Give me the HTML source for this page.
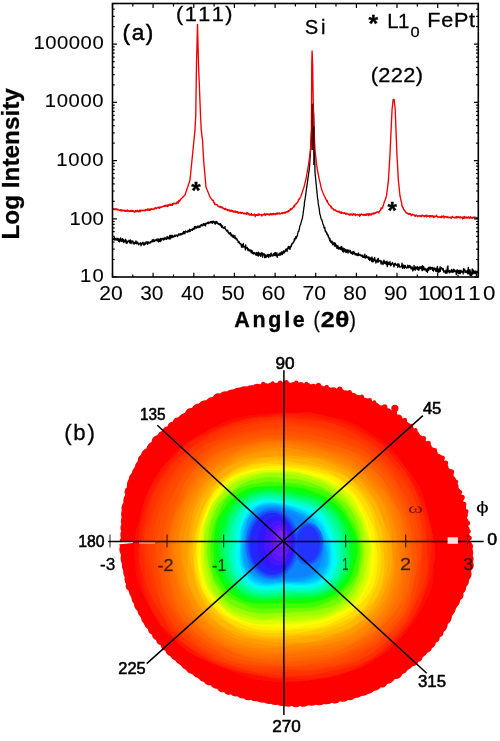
<!DOCTYPE html>
<html><head><meta charset="utf-8"><title>XRD and pole figure</title>
<style>html,body{margin:0;padding:0;background:#fff}svg{display:block}text{stroke:#000;stroke-width:.3px;font-kerning:none}</style></head>
<body><svg width="500" height="741" viewBox="0 0 500 741">
<rect width="500" height="741" fill="#fff"/>
<polyline points="112.5,240.3 112.8,238.4 113.1,238.9 113.4,239.3 113.7,238.2 114.0,239.0 114.3,239.1 114.6,237.5 114.9,240.1 115.2,239.8 115.5,238.7 115.8,239.2 116.1,239.9 116.4,239.2 116.7,239.3 117.0,238.2 117.3,240.1 117.6,239.8 117.9,240.0 118.2,238.3 118.5,241.4 118.8,240.0 119.1,239.6 119.4,241.9 119.7,240.0 120.0,238.7 120.3,239.8 120.6,238.0 120.9,241.3 121.2,239.9 121.5,239.7 121.8,241.5 122.1,238.9 122.4,241.1 122.7,238.6 123.0,240.0 123.3,239.5 123.6,242.2 123.9,242.5 124.2,240.5 124.5,241.7 124.8,240.8 125.0,241.6 125.1,240.3 125.4,239.4 125.7,239.3 126.0,241.5 126.3,243.4 126.6,241.5 126.9,240.8 127.2,243.2 127.5,241.6 127.8,241.5 128.1,241.7 128.4,241.4 128.7,241.3 129.0,240.2 129.3,242.2 129.6,241.6 129.9,243.0 130.2,241.5 130.5,240.0 130.8,241.8 131.1,243.7 131.4,241.6 131.7,241.2 132.0,240.9 132.3,241.1 132.6,241.9 132.9,241.1 133.2,243.8 133.5,242.1 133.8,242.5 134.1,243.9 134.4,244.0 134.7,242.3 135.0,242.9 135.3,243.4 135.6,242.5 135.9,240.9 136.2,243.4 136.5,243.7 136.8,243.3 137.1,242.0 137.4,242.7 137.7,242.4 138.0,242.7 138.3,244.4 138.6,244.7 138.9,243.9 139.2,243.8 139.5,244.0 139.8,243.3 140.1,243.3 140.4,242.7 140.7,243.4 141.0,245.8 141.3,244.5 141.6,243.3 141.9,243.2 142.2,242.8 142.5,244.1 142.5,244.2 142.8,242.2 143.1,244.1 143.4,243.0 143.7,245.0 144.0,243.6 144.3,245.1 144.6,242.8 144.9,242.9 145.2,243.5 145.5,244.2 145.8,243.6 146.1,241.7 146.4,243.1 146.7,242.9 147.0,242.4 147.3,242.1 147.6,244.4 147.9,242.2 148.2,241.7 148.5,243.1 148.8,242.5 149.1,242.3 149.4,243.1 149.7,242.7 150.0,242.5 150.3,243.0 150.6,242.3 150.9,241.3 151.2,241.5 151.5,241.3 151.8,242.0 152.1,240.6 152.4,239.8 152.7,241.7 153.0,240.2 153.3,239.5 153.6,241.7 153.9,240.6 154.2,241.7 154.5,240.7 154.8,240.0 155.1,239.8 155.4,240.5 155.7,240.7 156.0,240.1 156.3,240.5 156.6,239.2 156.9,240.7 157.2,238.9 157.5,240.3 157.8,241.1 158.1,241.5 158.4,242.0 158.7,238.8 159.0,240.9 159.3,241.3 159.6,241.0 159.9,239.1 160.0,240.4 160.2,241.7 160.5,238.4 160.8,240.2 161.1,240.8 161.4,239.0 161.7,240.1 162.0,238.4 162.3,238.6 162.6,238.5 162.9,239.4 163.2,239.1 163.5,240.0 163.8,238.1 164.1,238.8 164.4,239.7 164.7,239.3 165.0,237.4 165.3,239.2 165.6,238.1 165.9,238.8 166.2,238.6 166.5,239.4 166.8,238.3 167.1,236.4 167.4,236.8 167.7,238.6 168.0,237.6 168.3,238.8 168.6,238.0 168.9,236.9 169.2,238.5 169.5,236.7 169.8,235.5 170.1,239.2 170.4,235.5 170.7,237.7 171.0,237.9 171.3,237.1 171.6,235.4 171.9,237.7 172.2,235.4 172.5,235.5 172.8,236.3 173.1,237.2 173.4,236.7 173.7,237.1 174.0,235.9 174.3,236.0 174.6,235.1 174.9,235.7 175.0,236.5 175.2,235.7 175.5,236.2 175.8,235.2 176.1,235.1 176.4,235.5 176.7,235.2 177.0,235.8 177.3,235.4 177.6,236.6 177.9,234.8 178.2,234.7 178.5,233.9 178.8,234.7 179.1,235.2 179.4,233.8 179.7,234.3 180.0,234.9 180.3,234.0 180.6,233.6 180.9,234.8 181.2,233.9 181.5,234.1 181.8,234.6 182.1,234.5 182.4,233.1 182.7,232.9 183.0,233.4 183.3,233.0 183.6,231.4 183.9,233.9 184.2,232.8 184.5,233.3 184.8,231.6 185.0,233.6 185.1,232.0 185.4,232.2 185.7,231.0 186.0,231.9 186.3,231.7 186.6,231.7 186.9,232.0 187.2,231.6 187.5,232.2 187.8,230.9 188.1,230.4 188.4,231.0 188.7,231.4 189.0,231.8 189.3,231.3 189.6,229.1 189.9,230.7 190.2,231.4 190.5,230.2 190.8,229.6 191.1,230.1 191.4,229.3 191.7,230.1 192.0,229.5 192.3,230.4 192.6,229.6 192.9,228.5 193.2,229.4 193.5,229.5 193.8,228.3 194.1,228.2 194.4,226.7 194.7,229.0 195.0,227.7 195.3,226.5 195.6,226.6 195.9,227.6 196.2,228.2 196.5,227.5 196.8,227.7 197.1,226.5 197.4,226.1 197.7,227.6 198.0,227.2 198.3,226.7 198.6,227.5 198.9,225.8 199.2,226.0 199.5,226.9 199.8,227.4 200.0,226.0 200.1,227.2 200.4,225.4 200.7,226.0 201.0,225.5 201.3,224.4 201.6,225.6 201.9,225.9 202.2,225.1 202.5,225.0 202.8,225.9 203.1,224.0 203.4,223.7 203.7,224.2 204.0,223.7 204.3,225.3 204.6,224.5 204.9,223.6 205.2,223.6 205.5,225.9 205.8,223.4 206.1,223.2 206.4,223.8 206.7,223.9 207.0,223.5 207.3,222.7 207.6,222.4 207.9,223.4 208.0,223.0 208.2,221.9 208.5,223.7 208.8,223.4 209.1,222.7 209.4,222.6 209.7,222.9 210.0,222.2 210.3,221.7 210.6,222.8 210.9,221.6 211.2,222.7 211.5,221.5 211.8,222.3 212.1,222.2 212.4,223.4 212.7,221.5 213.0,221.2 213.3,221.7 213.6,221.3 213.8,221.6 213.9,222.3 214.2,222.7 214.5,223.3 214.8,221.9 215.1,224.2 215.4,223.9 215.7,222.6 216.0,221.4 216.3,222.9 216.6,223.1 216.9,221.7 217.2,223.4 217.5,223.3 217.8,223.0 218.1,224.1 218.4,224.4 218.7,223.6 219.0,224.2 219.0,223.6 219.3,223.7 219.6,224.5 219.9,225.1 220.2,224.6 220.5,223.7 220.8,225.8 221.1,224.5 221.4,226.0 221.7,227.4 222.0,226.4 222.3,225.8 222.6,225.8 222.9,227.9 223.2,227.3 223.5,228.0 223.8,228.5 224.1,228.0 224.4,228.0 224.7,227.8 225.0,226.4 225.0,227.6 225.3,229.0 225.6,229.2 225.9,230.0 226.2,229.9 226.5,230.4 226.8,231.2 227.1,230.1 227.4,230.9 227.7,230.2 228.0,232.5 228.3,232.1 228.6,232.8 228.9,233.9 229.2,233.8 229.5,233.2 229.8,234.2 230.0,232.5 230.1,234.2 230.4,234.2 230.7,233.0 231.0,235.8 231.3,234.2 231.6,235.7 231.9,235.0 232.2,236.5 232.5,237.0 232.8,235.4 233.1,235.0 233.4,236.5 233.7,237.7 234.0,236.8 234.3,236.8 234.6,238.1 234.9,235.4 235.0,237.4 235.2,236.9 235.5,238.8 235.8,238.2 236.1,238.1 236.4,239.2 236.7,238.4 237.0,240.1 237.3,239.8 237.6,240.4 237.9,240.4 238.2,242.3 238.5,241.6 238.8,242.6 239.1,242.9 239.4,241.9 239.7,243.6 240.0,243.7 240.3,244.0 240.6,243.6 240.9,243.9 241.2,245.4 241.5,247.2 241.8,244.4 242.1,246.1 242.4,245.5 242.5,246.8 242.7,246.6 243.0,247.4 243.3,243.5 243.6,246.0 243.9,245.8 244.2,246.9 244.5,246.5 244.8,246.7 245.1,248.4 245.4,249.9 245.7,244.9 246.0,247.8 246.3,248.7 246.6,248.5 246.9,248.3 247.2,247.4 247.5,248.0 247.8,250.1 248.1,250.7 248.4,249.8 248.7,248.9 249.0,250.1 249.3,249.9 249.6,251.0 249.9,250.7 250.2,250.1 250.5,251.2 250.8,249.8 251.1,252.3 251.4,252.9 251.7,250.3 252.0,252.4 252.3,250.9 252.6,253.5 252.9,253.5 253.2,252.4 253.5,254.0 253.8,252.5 254.1,252.4 254.4,252.7 254.7,253.4 255.0,253.4 255.0,253.9 255.3,253.1 255.6,254.8 255.9,255.1 256.2,253.4 256.5,252.3 256.8,255.0 257.1,255.5 257.4,254.0 257.7,252.7 258.0,254.6 258.3,256.2 258.6,252.1 258.9,255.0 259.2,254.1 259.5,253.5 259.8,255.2 260.1,253.1 260.4,255.1 260.7,256.4 261.0,255.0 261.3,253.8 261.6,252.8 261.9,253.4 262.2,252.8 262.5,257.1 262.8,254.8 263.1,253.9 263.4,253.7 263.7,254.0 264.0,255.0 264.3,253.8 264.6,257.6 264.9,254.6 265.2,254.6 265.5,256.0 265.8,257.5 266.1,257.4 266.4,255.2 266.7,256.2 267.0,256.1 267.3,256.6 267.5,256.3 267.6,254.8 267.9,254.4 268.2,256.1 268.5,254.3 268.8,257.5 269.1,255.8 269.4,254.4 269.7,255.2 270.0,254.9 270.3,255.3 270.6,256.6 270.9,253.6 271.2,253.0 271.5,255.7 271.8,255.0 272.1,255.4 272.4,255.7 272.7,254.8 273.0,256.0 273.3,253.9 273.6,255.0 273.9,253.8 274.2,253.4 274.5,255.5 274.8,255.4 275.1,252.3 275.4,253.2 275.7,254.9 276.0,255.8 276.3,253.6 276.6,254.1 276.9,252.6 277.2,257.3 277.5,254.8 277.8,255.2 278.1,254.9 278.4,255.2 278.7,254.7 279.0,253.5 279.3,254.8 279.6,253.9 279.9,255.3 280.0,252.9 280.2,253.0 280.5,254.2 280.8,254.8 281.1,253.2 281.4,252.0 281.7,252.5 282.0,251.9 282.3,254.6 282.6,253.2 282.9,253.4 283.2,252.1 283.5,250.9 283.8,252.7 284.1,253.1 284.4,251.7 284.7,250.8 285.0,251.9 285.3,250.0 285.6,251.1 285.9,249.3 286.2,248.8 286.5,250.3 286.8,249.9 287.1,251.5 287.4,248.8 287.7,249.0 288.0,247.5 288.3,246.5 288.6,246.4 288.9,248.7 289.2,246.7 289.5,249.1 289.8,249.2 290.0,247.2 290.1,249.1 290.4,247.1 290.7,247.5 291.0,245.6 291.3,246.3 291.6,243.8 291.9,245.0 292.2,243.4 292.5,243.2 292.8,243.5 293.1,242.5 293.4,241.8 293.7,242.0 294.0,241.6 294.3,239.0 294.6,240.4 294.9,240.0 295.2,238.1 295.5,238.7 295.8,236.6 296.1,238.6 296.4,236.6 296.7,236.3 297.0,236.9 297.3,235.2 297.5,235.5 297.6,233.7 297.9,233.1 298.2,231.4 298.5,231.3 298.8,231.3 299.1,229.6 299.4,229.0 299.7,226.5 300.0,225.6 300.3,224.9 300.6,224.5 300.9,223.3 301.2,222.0 301.5,221.4 301.8,219.9 302.1,218.9 302.4,218.6 302.5,217.1 302.7,216.2 303.0,214.9 303.3,211.8 303.6,210.1 303.9,207.1 304.2,206.5 304.5,201.9 304.8,200.4 305.1,198.9 305.4,196.8 305.7,194.6 306.0,192.5 306.0,192.5 306.3,190.4 306.6,188.2 306.9,186.1 307.2,183.9 307.5,181.8 307.8,179.6 308.1,177.5 308.4,175.4 308.7,173.2 309.0,171.1 309.3,168.9 309.5,167.5 309.6,165.8 309.9,160.8 310.2,155.8 310.5,150.8 310.8,145.8 311.0,142.5 311.1,140.7 311.4,135.2 311.7,129.7 312.0,124.2 312.3,118.7 312.5,115.0 312.6,112.8 312.9,106.2 313.0,104.0 313.2,107.7 313.5,113.2 313.6,115.0 313.8,122.9 314.1,134.6 314.3,142.5 314.4,146.8 314.7,159.6 315.0,172.5 315.0,172.5 315.3,175.5 315.6,178.5 315.9,181.5 316.2,184.5 316.5,187.5 316.8,190.5 317.1,193.5 317.4,196.5 317.5,197.5 317.7,198.9 318.0,200.4 318.3,204.1 318.6,205.4 318.9,207.1 319.2,208.6 319.5,211.7 319.8,213.7 320.0,214.6 320.1,214.4 320.4,215.5 320.7,217.2 321.0,218.2 321.3,218.9 321.6,219.7 321.9,219.6 322.2,221.6 322.5,221.8 322.8,223.4 323.1,224.6 323.4,224.7 323.7,225.4 324.0,227.7 324.3,228.2 324.6,228.3 324.9,227.4 325.0,230.0 325.2,230.9 325.5,231.9 325.8,231.1 326.1,231.7 326.4,232.4 326.7,234.1 327.0,233.0 327.3,234.5 327.6,234.4 327.9,236.0 328.2,235.0 328.5,237.3 328.8,237.1 329.1,238.0 329.4,239.3 329.7,240.5 330.0,238.4 330.0,241.0 330.3,240.8 330.6,240.3 330.9,242.3 331.2,241.4 331.5,242.8 331.8,241.2 332.1,241.2 332.4,243.6 332.7,244.9 333.0,243.6 333.3,244.2 333.6,243.1 333.9,242.5 334.2,244.0 334.5,246.1 334.8,242.9 335.1,244.6 335.4,243.4 335.7,245.8 336.0,246.9 336.3,245.0 336.6,246.2 336.9,248.3 337.2,247.1 337.5,246.1 337.5,246.1 337.8,245.4 338.1,248.6 338.4,247.0 338.7,249.1 339.0,249.0 339.3,247.4 339.6,247.6 339.9,249.2 340.2,248.6 340.5,248.8 340.8,246.8 341.1,249.8 341.4,247.9 341.7,246.4 342.0,248.4 342.3,249.7 342.6,251.6 342.9,249.0 343.2,248.0 343.5,252.0 343.8,249.9 344.1,249.5 344.4,248.7 344.7,248.9 345.0,251.8 345.3,249.9 345.6,249.7 345.9,249.9 346.2,252.3 346.5,250.0 346.8,251.5 347.1,251.2 347.4,251.2 347.5,250.0 347.7,251.8 348.0,253.1 348.3,251.2 348.6,250.3 348.9,250.0 349.2,251.8 349.5,251.4 349.8,251.7 350.1,252.0 350.4,250.3 350.7,253.1 351.0,252.6 351.3,252.3 351.6,252.8 351.9,253.7 352.2,252.8 352.5,251.8 352.8,254.3 353.1,252.5 353.4,252.3 353.7,251.4 354.0,253.4 354.3,252.2 354.6,253.0 354.9,254.3 355.0,253.8 355.2,255.0 355.5,254.3 355.8,253.5 356.1,253.7 356.4,253.6 356.7,255.1 357.0,254.4 357.3,254.0 357.6,255.6 357.9,254.8 358.2,254.2 358.5,253.0 358.8,255.5 359.1,255.3 359.4,255.2 359.7,254.7 360.0,254.3 360.3,255.2 360.6,255.8 360.9,255.5 361.2,255.5 361.5,255.2 361.8,256.3 362.1,256.3 362.4,255.2 362.7,257.1 363.0,257.3 363.3,257.4 363.6,256.3 363.9,256.3 364.2,255.2 364.5,257.7 364.8,254.2 365.1,256.5 365.4,256.6 365.7,258.2 366.0,257.2 366.3,256.1 366.6,255.6 366.9,256.6 367.2,257.8 367.5,257.8 367.8,257.6 368.1,257.0 368.4,257.7 368.7,259.4 369.0,256.8 369.3,258.3 369.6,260.5 369.9,259.2 370.2,258.0 370.5,259.5 370.8,257.8 371.1,258.9 371.4,261.0 371.7,261.5 372.0,256.9 372.3,260.2 372.6,261.9 372.9,258.7 373.2,259.9 373.5,261.6 373.8,259.1 374.1,260.4 374.4,259.8 374.7,257.5 375.0,260.6 375.3,259.9 375.6,261.5 375.9,263.2 376.2,261.4 376.5,260.1 376.8,261.3 377.1,261.0 377.4,262.2 377.7,259.0 378.0,259.5 378.3,258.4 378.6,262.1 378.9,261.3 379.2,260.6 379.5,260.5 379.8,260.8 380.1,260.5 380.4,261.4 380.7,261.2 381.0,263.9 381.0,262.4 381.3,260.9 381.6,261.3 381.9,263.8 382.2,262.8 382.5,262.7 382.8,263.3 383.1,264.5 383.4,260.8 383.7,261.5 384.0,260.2 384.3,263.3 384.6,262.1 384.9,261.8 385.2,261.7 385.5,263.7 385.8,262.7 386.1,262.2 386.4,264.7 386.7,261.6 387.0,261.3 387.3,266.7 387.6,262.7 387.9,262.5 388.2,262.3 388.5,263.1 388.8,264.5 389.1,264.5 389.4,264.2 389.7,263.2 390.0,261.5 390.3,264.0 390.6,265.8 390.9,265.2 391.2,263.6 391.5,265.0 391.8,263.4 392.1,263.9 392.4,262.3 392.7,263.6 393.0,264.3 393.3,263.9 393.6,265.3 393.9,266.9 394.2,266.2 394.5,264.0 394.8,263.4 395.1,263.6 395.4,263.2 395.7,264.7 396.0,265.3 396.3,265.0 396.6,265.0 396.9,265.0 397.2,264.7 397.5,263.9 397.8,267.4 398.1,266.5 398.4,263.8 398.7,263.9 399.0,264.4 399.3,265.3 399.6,267.1 399.9,266.8 400.2,266.9 400.5,267.0 400.8,267.1 401.1,266.6 401.4,266.3 401.7,265.5 402.0,263.2 402.3,265.6 402.6,268.4 402.9,265.1 403.2,265.0 403.5,267.4 403.8,266.2 404.1,265.4 404.4,268.4 404.7,267.1 405.0,267.3 405.3,265.5 405.6,267.1 405.9,267.0 406.2,267.6 406.5,268.2 406.8,268.2 407.1,266.9 407.4,267.7 407.7,265.1 408.0,267.7 408.3,267.8 408.6,266.3 408.9,265.8 409.2,266.9 409.5,265.3 409.8,267.6 410.1,267.6 410.4,265.8 410.7,267.3 411.0,268.9 411.3,268.9 411.6,268.9 411.9,267.3 412.0,267.0 412.2,267.0 412.5,268.4 412.8,271.0 413.1,269.7 413.4,269.9 413.7,269.6 414.0,265.3 414.3,267.4 414.6,267.1 414.9,269.6 415.2,270.3 415.5,266.9 415.8,267.9 416.1,268.7 416.4,267.2 416.7,267.0 417.0,267.0 417.3,269.3 417.6,266.7 417.9,269.7 418.2,268.2 418.5,269.2 418.8,270.4 419.1,267.2 419.4,267.0 419.7,268.9 420.0,266.8 420.3,267.2 420.6,268.2 420.9,268.6 421.2,266.6 421.5,267.9 421.8,269.3 422.1,270.5 422.4,265.6 422.7,270.5 423.0,269.9 423.3,267.0 423.6,266.5 423.9,269.3 424.2,268.1 424.5,268.9 424.8,270.0 425.1,268.2 425.4,269.0 425.7,269.5 426.0,270.2 426.3,271.5 426.6,271.4 426.9,269.3 427.2,268.6 427.5,272.5 427.8,270.0 428.1,269.7 428.4,267.5 428.7,270.3 429.0,268.0 429.3,268.5 429.6,267.2 429.9,268.5 430.2,269.4 430.5,267.1 430.8,268.0 431.1,269.2 431.4,267.5 431.7,267.6 432.0,268.2 432.3,267.4 432.6,270.4 432.9,268.0 433.2,270.7 433.5,271.0 433.8,267.8 434.1,269.7 434.4,269.0 434.7,268.0 435.0,269.2 435.3,269.4 435.6,270.8 435.9,271.3 436.2,268.2 436.5,269.3 436.8,270.7 437.1,271.7 437.4,266.3 437.7,271.9 438.0,269.8 438.3,272.3 438.6,269.4 438.9,268.9 439.2,270.2 439.5,271.9 439.8,270.2 440.1,266.7 440.4,271.3 440.7,267.9 441.0,268.8 441.3,268.6 441.6,267.6 441.9,268.5 442.2,268.9 442.5,269.5 442.8,270.4 443.0,270.0 443.1,268.3 443.4,270.3 443.7,272.0 444.0,272.0 444.3,270.8 444.6,271.5 444.9,272.0 445.2,272.7 445.5,273.2 445.8,270.2 446.1,270.3 446.4,272.9 446.7,273.1 447.0,273.1 447.3,267.2 447.6,270.5 447.9,265.9 448.2,271.9 448.5,270.9 448.8,270.9 449.1,270.7 449.4,272.9 449.7,270.5 450.0,272.5 450.3,271.8 450.6,271.5 450.9,271.7 451.2,271.2 451.5,269.4 451.8,272.1 452.1,272.2 452.4,270.9 452.7,272.2 453.0,272.5 453.3,269.2 453.6,271.0 453.9,270.5 454.2,269.8 454.5,271.7 454.8,270.0 455.1,270.6 455.4,271.7 455.7,271.8 456.0,271.8 456.3,274.7 456.6,270.6 456.9,271.8 457.2,269.6 457.5,272.1 457.8,273.2 458.1,273.3 458.4,270.5 458.7,271.1 459.0,273.4 459.3,271.4 459.6,273.0 459.9,270.1 460.2,273.7 460.5,273.2 460.8,272.3 461.1,270.4 461.4,271.4 461.7,271.9 462.0,272.1 462.3,271.6 462.6,271.4 462.9,272.0 463.2,273.9 463.5,268.7 463.8,269.7 464.1,269.5 464.4,270.8 464.7,269.2 465.0,272.7 465.3,272.0 465.6,271.5 465.9,270.9 466.2,272.2 466.5,272.3 466.8,272.5 467.1,270.9 467.4,273.0 467.7,269.8 468.0,274.0 468.3,267.4 468.6,271.2 468.9,270.3 469.2,273.4 469.5,269.9 469.8,275.0 470.1,269.8 470.4,275.3 470.7,272.9 471.0,272.3 471.3,273.0 471.6,275.7 471.9,273.7 472.2,268.9 472.5,274.2 472.8,272.7 473.1,269.9 473.4,273.6 473.7,270.6 474.0,272.7 474.3,272.8 474.6,271.5 474.9,273.5 475.2,270.9 475.5,272.8 475.8,271.7 476.1,272.3 476.4,275.6 476.7,272.8 477.0,271.0 477.3,272.5 477.6,271.5 477.9,272.7 478.0,273.0" fill="none" stroke="#000" stroke-width="1.3" stroke-linejoin="round"/>
<polyline points="112.5,208.8 112.8,208.8 113.1,208.6 113.4,209.1 113.7,209.4 114.0,208.7 114.3,209.0 114.6,209.1 114.9,209.7 115.2,209.7 115.5,208.9 115.8,209.3 116.1,208.7 116.4,209.0 116.7,209.5 117.0,209.8 117.3,210.0 117.6,209.5 117.9,209.0 118.2,209.9 118.5,209.7 118.8,210.0 119.1,209.9 119.4,210.2 119.7,210.2 120.0,210.4 120.0,209.8 120.3,210.5 120.6,209.8 120.9,210.1 121.2,211.0 121.5,210.3 121.8,209.7 122.1,210.9 122.4,210.7 122.7,210.8 123.0,210.4 123.3,210.5 123.6,210.3 123.9,210.1 124.2,211.1 124.5,210.3 124.8,210.3 125.1,210.3 125.4,211.4 125.7,211.0 126.0,210.4 126.3,210.6 126.6,210.9 126.9,211.1 127.2,210.0 127.5,211.2 127.8,210.7 128.1,210.5 128.4,210.7 128.7,211.2 129.0,211.7 129.3,211.0 129.6,211.2 129.9,210.6 130.2,211.2 130.5,211.4 130.8,210.4 131.1,210.9 131.4,211.5 131.7,210.4 132.0,211.0 132.3,211.5 132.6,210.5 132.9,211.1 133.2,211.3 133.5,211.8 133.8,210.8 134.1,211.9 134.4,211.6 134.7,212.0 135.0,212.0 135.0,211.7 135.3,211.7 135.6,210.6 135.9,210.8 136.2,210.9 136.5,211.1 136.8,211.7 137.1,210.4 137.4,211.0 137.7,210.5 138.0,210.4 138.3,211.7 138.6,211.1 138.9,211.7 139.2,211.5 139.5,210.5 139.8,210.0 140.1,211.8 140.4,210.6 140.7,210.2 141.0,211.0 141.3,210.7 141.6,210.3 141.9,210.4 142.2,210.6 142.5,210.5 142.8,210.8 143.1,210.3 143.4,210.2 143.7,210.6 144.0,210.4 144.3,210.8 144.6,210.1 144.9,210.1 145.2,209.6 145.5,210.8 145.8,209.4 146.1,210.1 146.4,209.6 146.7,210.1 147.0,210.2 147.3,209.1 147.6,209.7 147.9,209.0 148.2,210.4 148.5,209.5 148.8,209.0 149.1,209.3 149.4,210.2 149.7,210.2 150.0,210.1 150.0,209.1 150.3,209.4 150.6,210.1 150.9,209.0 151.2,209.1 151.5,208.8 151.8,208.6 152.1,209.6 152.4,209.3 152.7,209.2 153.0,209.2 153.3,209.3 153.6,209.5 153.9,208.7 154.2,208.5 154.5,208.1 154.8,209.0 155.1,208.2 155.4,207.7 155.7,208.2 156.0,208.3 156.3,208.6 156.6,208.6 156.9,207.8 157.2,207.7 157.5,207.9 157.8,207.4 158.1,207.8 158.4,208.0 158.7,207.8 159.0,207.0 159.3,207.1 159.6,208.2 159.9,207.1 160.0,207.8 160.2,207.7 160.5,207.2 160.8,206.9 161.1,207.3 161.4,206.8 161.7,207.0 162.0,207.0 162.3,206.6 162.6,206.7 162.9,206.6 163.2,206.1 163.5,206.5 163.8,206.3 164.1,205.7 164.4,206.2 164.7,206.2 165.0,206.0 165.3,205.2 165.6,206.4 165.9,206.3 166.2,206.2 166.5,206.0 166.8,205.2 167.1,205.8 167.4,205.2 167.7,206.6 168.0,205.3 168.3,205.7 168.6,204.7 168.9,204.7 169.2,205.0 169.5,205.4 169.8,205.3 170.0,205.1 170.1,204.1 170.4,205.4 170.7,204.3 171.0,205.4 171.3,205.4 171.6,204.8 171.9,204.8 172.2,203.7 172.5,205.3 172.8,204.2 173.1,204.4 173.4,203.5 173.7,203.7 174.0,203.1 174.3,203.5 174.6,203.5 174.9,203.5 175.2,203.9 175.5,203.4 175.8,203.2 176.1,203.0 176.4,203.8 176.7,202.5 177.0,203.2 177.3,201.7 177.5,202.1 177.6,202.6 177.9,202.0 178.2,203.2 178.5,202.7 178.8,200.5 179.1,200.4 179.4,200.5 179.7,201.1 180.0,200.5 180.3,199.7 180.6,199.4 180.9,199.1 181.2,198.8 181.5,198.5 181.8,198.2 182.1,197.9 182.4,197.6 182.7,197.3 183.0,197.0 183.3,196.7 183.6,196.4 183.9,196.1 184.2,195.8 184.5,195.5 184.8,195.2 185.0,195.0 185.1,194.7 185.4,193.8 185.7,192.9 186.0,192.0 186.3,191.1 186.6,190.2 186.9,189.3 187.2,188.4 187.5,187.5 187.8,186.6 188.1,185.7 188.4,184.8 188.7,183.9 189.0,183.0 189.3,182.1 189.6,181.2 189.9,180.3 190.0,180.0 190.2,178.0 190.5,175.0 190.8,172.0 191.1,169.0 191.4,166.0 191.7,163.0 192.0,160.0 192.3,157.0 192.5,155.0 192.6,154.0 192.9,151.0 193.2,148.0 193.5,145.0 193.8,142.0 194.0,140.0 194.1,139.0 194.4,136.0 194.7,133.0 195.0,130.0 195.0,130.0 195.3,124.0 195.6,118.0 195.8,115.0 195.9,104.8 196.2,84.4 196.5,64.0 196.5,64.0 196.8,52.2 197.1,40.3 197.4,28.5 197.5,24.5 197.7,32.4 198.0,44.2 198.3,56.1 198.5,64.0 198.6,66.5 198.9,74.2 199.2,81.8 199.5,89.5 199.8,97.1 200.1,104.8 200.4,112.4 200.5,115.0 200.7,119.0 201.0,125.0 201.2,130.0 201.3,130.4 201.6,132.8 201.9,135.2 202.2,137.6 202.5,140.0 202.5,140.0 202.8,145.3 203.1,150.6 203.4,155.8 203.7,161.1 203.8,162.0 204.0,164.8 204.3,168.1 204.6,171.4 204.9,174.8 205.2,178.1 205.5,181.4 205.8,184.8 206.0,187.0 206.1,187.2 206.4,188.0 206.7,188.7 207.0,189.5 207.3,190.2 207.6,191.0 207.9,191.7 208.2,192.5 208.5,193.2 208.8,194.0 209.1,194.7 209.4,195.5 209.7,196.2 210.0,197.0 210.0,197.0 210.3,197.4 210.6,197.8 210.9,198.3 211.2,198.7 211.5,199.1 211.8,199.5 212.1,199.9 212.4,200.5 212.7,200.1 213.0,200.8 213.3,200.4 213.6,201.3 213.9,202.7 214.2,203.2 214.5,202.7 214.8,203.8 215.0,204.7 215.1,204.1 215.4,204.1 215.7,204.6 216.0,204.7 216.3,204.7 216.6,204.6 216.9,204.8 217.2,205.1 217.5,205.0 217.8,206.0 218.1,206.0 218.4,206.2 218.7,206.8 219.0,206.7 219.3,206.8 219.6,206.5 219.9,206.4 220.2,207.6 220.5,206.4 220.8,206.6 221.1,206.7 221.4,207.3 221.7,207.5 222.0,208.0 222.3,207.6 222.6,207.0 222.9,208.1 223.2,208.5 223.5,208.3 223.8,208.3 224.1,208.8 224.4,209.3 224.7,208.8 225.0,208.4 225.0,208.7 225.3,209.0 225.6,208.4 225.9,209.6 226.2,209.0 226.5,209.7 226.8,209.6 227.1,209.5 227.4,210.5 227.7,209.6 228.0,209.6 228.3,210.1 228.6,210.5 228.9,210.2 229.2,209.8 229.5,210.7 229.8,210.7 230.1,211.5 230.4,210.5 230.7,210.8 231.0,210.5 231.3,210.2 231.6,211.0 231.9,211.5 232.2,210.7 232.5,210.9 232.8,210.8 233.1,212.0 233.4,211.2 233.7,211.9 234.0,211.3 234.3,211.8 234.6,211.6 234.9,210.9 235.0,212.0 235.2,212.3 235.5,211.1 235.8,212.0 236.1,212.0 236.4,211.7 236.7,212.1 237.0,211.4 237.3,212.5 237.6,212.9 237.9,211.9 238.2,212.5 238.5,213.2 238.8,212.6 239.1,212.4 239.4,212.3 239.7,212.8 240.0,212.7 240.3,213.1 240.6,212.2 240.9,213.4 241.2,212.7 241.5,213.3 241.8,212.7 242.1,212.5 242.4,212.9 242.7,212.7 243.0,213.0 243.3,213.5 243.6,213.8 243.9,213.4 244.2,213.1 244.5,213.2 244.8,213.7 245.1,214.0 245.4,213.4 245.7,213.5 246.0,213.3 246.3,213.8 246.6,214.2 246.9,212.5 247.2,213.9 247.5,213.6 247.8,212.9 248.1,214.1 248.4,214.0 248.7,214.2 249.0,213.5 249.3,215.1 249.6,214.2 249.9,214.1 250.2,215.0 250.5,214.6 250.8,214.7 251.1,214.9 251.4,213.5 251.7,215.3 252.0,214.4 252.3,214.7 252.6,215.1 252.9,214.4 253.2,214.9 253.5,215.1 253.8,214.8 254.1,215.1 254.4,214.2 254.7,214.4 255.0,214.5 255.0,215.2 255.3,216.7 255.6,215.1 255.9,214.9 256.2,214.9 256.5,215.4 256.8,215.2 257.1,214.4 257.4,215.3 257.7,214.9 258.0,215.2 258.3,213.9 258.6,214.1 258.9,215.1 259.2,214.0 259.5,215.0 259.8,214.9 260.1,214.8 260.4,214.9 260.7,214.8 261.0,214.9 261.3,214.5 261.6,214.7 261.9,216.0 262.2,215.2 262.5,214.9 262.8,214.8 263.1,214.3 263.4,214.7 263.7,214.5 264.0,215.0 264.3,214.1 264.6,213.5 264.9,214.3 265.2,214.8 265.5,215.6 265.8,214.9 266.1,214.0 266.4,214.3 266.7,214.0 267.0,214.3 267.3,214.0 267.6,213.6 267.9,214.6 268.2,214.4 268.5,214.2 268.8,214.5 269.1,215.2 269.4,214.3 269.7,214.1 270.0,214.6 270.3,213.5 270.6,214.6 270.9,213.9 271.2,213.8 271.5,214.2 271.8,214.9 272.1,213.8 272.4,214.6 272.7,214.3 273.0,213.5 273.3,214.5 273.6,213.7 273.9,213.4 274.2,213.7 274.5,213.7 274.8,214.3 275.1,213.7 275.4,214.7 275.7,214.1 276.0,213.6 276.3,213.6 276.6,214.0 276.9,213.0 277.2,212.9 277.5,213.5 277.8,214.1 278.1,213.9 278.4,213.8 278.7,213.7 279.0,212.8 279.3,213.6 279.6,213.0 279.9,214.1 280.0,213.7 280.2,213.7 280.5,213.8 280.8,213.7 281.1,213.5 281.4,213.5 281.7,213.0 282.0,212.6 282.3,213.3 282.6,213.7 282.9,213.4 283.2,212.8 283.5,213.0 283.8,212.5 284.1,212.8 284.4,212.2 284.7,212.5 285.0,213.2 285.3,212.6 285.6,212.8 285.9,211.7 286.2,211.7 286.5,211.9 286.8,212.1 287.1,211.7 287.4,212.1 287.7,211.3 288.0,212.1 288.0,211.9 288.3,210.8 288.6,211.4 288.9,210.8 289.2,211.1 289.5,210.2 289.8,210.4 290.1,210.3 290.4,208.6 290.7,208.8 291.0,209.5 291.3,209.2 291.6,209.5 291.9,209.0 292.0,208.2 292.2,208.7 292.5,207.9 292.8,207.8 293.1,207.3 293.4,207.3 293.7,206.2 294.0,206.0 294.3,205.1 294.6,206.7 294.9,205.0 295.2,204.7 295.5,204.2 295.8,204.1 296.1,203.8 296.4,204.0 296.7,203.4 297.0,203.1 297.0,202.7 297.3,202.5 297.6,202.5 297.9,201.5 298.2,201.1 298.5,199.5 298.8,199.9 299.1,199.4 299.4,198.9 299.7,198.4 300.0,197.9 300.3,197.4 300.6,196.8 300.8,196.5 300.9,196.2 301.2,195.3 301.5,194.4 301.8,193.5 302.1,192.6 302.4,191.8 302.7,190.9 303.0,190.0 303.3,189.1 303.6,188.2 303.9,187.3 304.0,187.0 304.2,186.2 304.5,185.0 304.8,183.8 305.1,182.6 305.4,181.4 305.7,180.2 306.0,179.0 306.0,179.0 306.3,177.3 306.6,175.6 306.9,174.0 307.2,172.3 307.5,170.6 307.8,168.9 308.1,167.2 308.4,165.6 308.5,165.0 308.7,163.5 309.0,161.3 309.3,159.0 309.6,156.8 309.9,154.5 310.2,152.3 310.5,150.0 310.5,150.0 310.8,143.3 311.1,136.7 311.4,130.0 311.4,130.0 311.7,79.8 311.8,63.0 312.0,55.0 312.1,51.0 312.3,55.8 312.6,63.0 312.6,63.0 312.9,81.5 313.2,100.0 313.2,100.0 313.5,111.2 313.8,122.5 314.0,130.0 314.1,132.0 314.4,138.0 314.7,144.0 315.0,150.0 315.0,150.0 315.3,152.7 315.6,155.4 315.9,158.1 316.2,160.8 316.5,163.5 316.8,166.2 317.0,168.0 317.1,168.5 317.4,170.0 317.7,171.5 318.0,173.0 318.3,174.5 318.6,176.0 318.9,177.5 319.2,179.0 319.2,179.0 319.5,180.3 319.8,181.6 320.1,182.9 320.4,184.2 320.7,185.5 321.0,186.8 321.3,188.1 321.5,189.0 321.6,189.2 321.9,190.0 322.2,190.7 322.5,191.5 322.8,192.2 323.1,193.0 323.4,193.7 323.7,194.5 324.0,195.2 324.3,196.0 324.5,196.5 324.6,196.7 324.9,197.2 325.2,197.8 325.5,198.4 325.8,198.9 326.1,199.5 326.4,200.3 326.7,200.7 327.0,201.7 327.3,200.5 327.6,202.3 327.9,202.8 328.0,203.0 328.2,203.0 328.5,203.7 328.8,204.4 329.1,204.5 329.4,204.7 329.7,205.1 330.0,205.5 330.3,206.0 330.6,206.1 330.9,205.9 331.2,207.8 331.5,206.8 331.8,207.9 332.1,207.8 332.4,208.7 332.4,208.4 332.7,208.9 333.0,208.7 333.3,208.7 333.6,209.6 333.9,210.2 334.2,209.9 334.5,210.0 334.8,209.6 335.1,210.2 335.4,210.6 335.7,210.3 336.0,211.1 336.3,210.9 336.6,211.2 336.9,211.0 337.2,211.1 337.5,211.6 337.8,211.8 338.0,211.9 338.1,211.3 338.4,211.5 338.7,211.9 339.0,211.2 339.3,212.6 339.6,212.3 339.9,212.2 340.2,212.0 340.5,212.7 340.8,212.3 341.1,213.4 341.4,212.7 341.7,212.0 342.0,213.0 342.3,212.5 342.6,212.6 342.9,212.8 343.2,212.9 343.5,213.2 343.8,213.5 344.1,213.4 344.4,212.9 344.7,212.7 345.0,213.0 345.3,213.6 345.6,213.9 345.9,214.4 346.2,213.1 346.5,213.8 346.8,213.7 347.1,213.7 347.4,214.0 347.7,213.9 348.0,214.0 348.3,213.9 348.6,214.4 348.9,214.8 349.2,215.1 349.5,214.2 349.8,214.1 350.0,214.5 350.1,214.2 350.4,215.0 350.7,214.2 351.0,214.6 351.3,214.0 351.6,214.4 351.9,214.7 352.2,215.3 352.5,214.3 352.8,214.8 353.1,213.7 353.4,214.1 353.7,214.3 354.0,214.4 354.3,214.9 354.6,214.9 354.9,213.9 355.2,214.9 355.5,214.2 355.8,215.5 356.1,214.8 356.4,214.8 356.7,214.6 357.0,214.7 357.3,214.7 357.6,214.4 357.9,215.1 358.2,214.9 358.5,215.1 358.8,214.7 359.1,215.1 359.4,214.4 359.7,216.4 360.0,214.5 360.0,214.6 360.3,215.2 360.6,215.3 360.9,214.4 361.2,214.0 361.5,214.1 361.8,214.3 362.1,214.3 362.4,214.6 362.7,215.1 363.0,215.2 363.3,214.4 363.6,214.9 363.9,215.0 364.2,215.3 364.5,214.5 364.8,214.3 365.1,214.9 365.4,215.3 365.7,214.3 366.0,215.4 366.3,215.3 366.6,214.4 366.9,213.8 367.2,214.2 367.5,214.3 367.8,214.7 368.1,213.7 368.4,215.6 368.7,215.5 369.0,214.1 369.3,213.6 369.6,214.4 369.9,214.6 370.2,215.0 370.5,214.7 370.8,214.3 371.1,213.5 371.3,214.6 371.4,214.7 371.7,214.1 372.0,214.3 372.3,214.1 372.6,213.8 372.9,213.3 373.2,213.9 373.5,213.0 373.8,214.2 374.1,213.1 374.4,213.6 374.7,213.0 375.0,213.4 375.3,213.0 375.6,213.2 375.9,212.6 376.2,212.1 376.5,212.6 376.8,212.5 377.1,211.9 377.4,212.1 377.7,211.6 378.0,212.3 378.3,212.0 378.6,212.1 378.9,213.1 378.9,212.0 379.2,211.8 379.5,211.5 379.8,210.8 380.1,210.2 380.4,210.5 380.7,210.2 381.0,208.0 381.3,208.9 381.6,208.4 381.9,207.9 382.2,208.4 382.5,207.2 382.7,207.6 382.8,206.6 383.1,205.8 383.4,205.4 383.7,203.9 384.0,203.2 384.3,201.9 384.6,201.1 384.9,200.9 385.2,199.8 385.5,198.9 385.8,198.0 386.1,197.1 386.4,196.2 386.5,195.9 386.7,194.3 387.0,191.9 387.3,189.5 387.6,187.1 387.9,184.7 388.2,182.3 388.4,180.7 388.5,179.1 388.8,174.1 389.1,169.2 389.4,164.2 389.7,159.3 389.9,156.0 390.0,153.8 390.3,147.3 390.6,140.8 390.9,134.3 391.2,127.8 391.2,127.8 391.5,121.5 391.8,115.3 392.1,109.0 392.1,109.0 392.4,106.4 392.7,103.8 393.0,101.2 393.2,99.5 393.3,99.5 393.6,99.5 393.9,99.5 394.1,99.5 394.2,100.4 394.5,103.0 394.8,105.5 395.1,108.1 395.2,109.0 395.4,114.4 395.7,122.4 395.9,127.8 396.0,130.4 396.3,138.1 396.6,145.7 396.9,153.4 397.0,156.0 397.2,159.5 397.5,164.8 397.8,170.1 398.1,175.4 398.4,180.7 398.4,180.7 398.7,183.6 399.0,186.4 399.3,189.3 399.6,192.2 399.9,195.0 400.0,196.0 400.2,196.9 400.5,198.2 400.8,199.6 401.1,201.2 401.4,201.7 401.7,203.0 402.0,206.1 402.3,206.0 402.5,206.8 402.6,207.5 402.9,207.4 403.2,208.0 403.5,209.1 403.8,209.6 404.1,209.5 404.4,210.6 404.7,210.4 405.0,210.8 405.3,211.4 405.6,211.7 405.9,212.5 406.2,212.8 406.3,212.5 406.5,213.0 406.8,212.8 407.1,212.9 407.4,213.2 407.7,213.8 408.0,213.5 408.3,214.1 408.6,214.3 408.9,213.7 409.2,213.5 409.5,213.6 409.8,214.1 410.1,214.5 410.4,214.9 410.7,213.7 411.0,214.8 411.3,215.0 411.6,215.7 411.9,214.8 412.2,214.8 412.5,214.2 412.8,214.7 413.1,214.6 413.4,214.8 413.7,214.9 414.0,214.7 414.3,215.5 414.6,215.8 414.8,216.0 414.9,215.6 415.2,216.2 415.5,216.2 415.8,215.0 416.1,215.6 416.4,215.2 416.7,215.3 417.0,215.8 417.3,215.7 417.6,216.4 417.9,216.7 418.2,216.0 418.5,215.7 418.8,215.8 419.1,215.8 419.4,216.1 419.7,215.5 420.0,216.1 420.3,215.8 420.6,216.4 420.9,216.5 421.2,216.7 421.5,215.9 421.8,215.3 422.1,215.2 422.4,215.8 422.7,215.3 423.0,215.3 423.3,215.9 423.6,215.6 423.9,216.3 424.2,216.9 424.5,216.0 424.8,216.2 425.1,215.4 425.4,216.2 425.7,215.8 426.0,215.6 426.3,215.3 426.6,216.9 426.9,215.4 427.2,215.6 427.5,216.2 427.8,216.3 428.1,216.3 428.4,216.3 428.7,215.8 429.0,216.6 429.3,216.3 429.6,215.6 429.9,217.0 430.0,216.1 430.2,216.7 430.5,215.6 430.8,215.8 431.1,216.1 431.4,216.0 431.7,216.8 432.0,215.6 432.3,216.5 432.6,215.9 432.9,216.6 433.2,216.5 433.5,216.2 433.8,217.5 434.1,216.4 434.4,217.0 434.7,215.9 435.0,216.5 435.3,216.6 435.6,216.6 435.9,216.4 436.2,216.2 436.5,215.2 436.8,216.3 437.1,216.2 437.4,216.5 437.7,217.0 438.0,217.6 438.3,216.9 438.6,217.1 438.9,217.0 439.2,217.0 439.5,217.0 439.8,216.6 440.1,216.6 440.4,216.9 440.7,217.6 441.0,217.1 441.3,217.5 441.6,216.2 441.9,216.9 442.2,217.0 442.5,217.1 442.8,216.3 443.1,216.1 443.4,215.9 443.7,216.7 444.0,218.0 444.3,217.0 444.6,216.4 444.9,217.1 445.2,216.8 445.5,217.1 445.8,216.8 446.1,216.4 446.4,216.8 446.7,217.4 447.0,217.2 447.3,217.6 447.6,216.6 447.9,217.6 448.2,217.1 448.5,217.2 448.8,217.7 449.1,217.1 449.4,217.3 449.7,217.5 450.0,217.5 450.0,217.6 450.3,217.8 450.6,217.5 450.9,217.0 451.2,218.3 451.5,217.2 451.8,217.4 452.1,216.9 452.4,216.3 452.7,216.9 453.0,217.3 453.3,217.5 453.6,217.3 453.9,217.7 454.2,217.8 454.5,217.8 454.8,217.3 455.1,217.4 455.4,217.2 455.7,216.9 456.0,218.0 456.3,216.8 456.6,217.3 456.9,217.5 457.2,216.4 457.5,217.7 457.8,217.2 458.1,217.5 458.4,217.2 458.7,216.7 459.0,217.5 459.3,217.5 459.6,217.9 459.9,217.6 460.2,216.7 460.5,217.9 460.8,217.8 461.1,217.8 461.4,217.7 461.7,217.2 462.0,217.7 462.3,217.3 462.6,218.8 462.9,217.4 463.2,217.0 463.5,217.4 463.8,218.2 464.1,217.3 464.4,216.4 464.7,218.2 465.0,217.7 465.3,217.3 465.6,217.9 465.9,217.1 466.2,217.0 466.5,218.0 466.8,217.3 467.1,217.8 467.4,217.6 467.7,218.0 468.0,217.7 468.3,216.7 468.6,217.9 468.9,217.4 469.2,218.0 469.5,217.7 469.8,218.3 470.1,217.5 470.4,216.7 470.7,217.5 471.0,217.9 471.3,217.5 471.6,217.5 471.9,218.4 472.2,217.6 472.5,218.2 472.8,217.8 473.1,217.1 473.4,217.3 473.7,217.6 474.0,217.9 474.3,217.4 474.6,217.1 474.9,217.3 475.2,217.5 475.5,217.4 475.8,217.5 476.1,218.6 476.4,217.9 476.7,217.4 477.0,217.8 477.3,218.5 477.6,218.1 477.9,217.8 478.0,217.2" fill="none" stroke="#f00000" stroke-width="1.35" stroke-linejoin="round"/>
<line x1="312.3" y1="104" x2="312.3" y2="150" stroke="#7a0000" stroke-width="2"/>
<line x1="313.8" y1="126" x2="313.8" y2="165" stroke="#000" stroke-width="1.2"/>
<rect x="112.5" y="3.5" width="365.8" height="273.5" fill="none" stroke="#000" stroke-width="1.6"/>
<path d="M112.5,277.0v-4.2 M112.5,3.5v4.6 M132.8,277.0v-2.6 M132.8,3.5v3.0 M153.1,277.0v-4.2 M153.1,3.5v4.6 M173.5,277.0v-2.6 M173.5,3.5v3.0 M193.8,277.0v-4.2 M193.8,3.5v4.6 M214.1,277.0v-2.6 M214.1,3.5v3.0 M234.4,277.0v-4.2 M234.4,3.5v4.6 M254.8,277.0v-2.6 M254.8,3.5v3.0 M275.1,277.0v-4.2 M275.1,3.5v4.6 M295.4,277.0v-2.6 M295.4,3.5v3.0 M315.7,277.0v-4.2 M315.7,3.5v4.6 M336.0,277.0v-2.6 M336.0,3.5v3.0 M356.4,277.0v-4.2 M356.4,3.5v4.6 M376.7,277.0v-2.6 M376.7,3.5v3.0 M397.0,277.0v-4.2 M397.0,3.5v4.6 M417.3,277.0v-2.6 M417.3,3.5v3.0 M437.7,277.0v-4.2 M437.7,3.5v4.6 M458.0,277.0v-2.6 M458.0,3.5v3.0 M478.3,277.0v-4.2 M478.3,3.5v4.6 M112.5,277.0h4.4 M478.3,277.0h-4.4 M112.5,259.5h2.2 M478.3,259.5h-2.2 M112.5,249.2h2.2 M478.3,249.2h-2.2 M112.5,242.0h2.2 M478.3,242.0h-2.2 M112.5,236.3h2.2 M478.3,236.3h-2.2 M112.5,231.7h2.2 M478.3,231.7h-2.2 M112.5,227.8h2.2 M478.3,227.8h-2.2 M112.5,224.4h2.2 M478.3,224.4h-2.2 M112.5,221.5h2.2 M478.3,221.5h-2.2 M112.5,218.8h4.4 M478.3,218.8h-4.4 M112.5,201.3h2.2 M478.3,201.3h-2.2 M112.5,191.0h2.2 M478.3,191.0h-2.2 M112.5,183.8h2.2 M478.3,183.8h-2.2 M112.5,178.1h2.2 M478.3,178.1h-2.2 M112.5,173.5h2.2 M478.3,173.5h-2.2 M112.5,169.6h2.2 M478.3,169.6h-2.2 M112.5,166.2h2.2 M478.3,166.2h-2.2 M112.5,163.3h2.2 M478.3,163.3h-2.2 M112.5,160.6h4.4 M478.3,160.6h-4.4 M112.5,143.1h2.2 M478.3,143.1h-2.2 M112.5,132.8h2.2 M478.3,132.8h-2.2 M112.5,125.6h2.2 M478.3,125.6h-2.2 M112.5,119.9h2.2 M478.3,119.9h-2.2 M112.5,115.3h2.2 M478.3,115.3h-2.2 M112.5,111.4h2.2 M478.3,111.4h-2.2 M112.5,108.0h2.2 M478.3,108.0h-2.2 M112.5,105.1h2.2 M478.3,105.1h-2.2 M112.5,102.4h4.4 M478.3,102.4h-4.4 M112.5,84.9h2.2 M478.3,84.9h-2.2 M112.5,74.6h2.2 M478.3,74.6h-2.2 M112.5,67.4h2.2 M478.3,67.4h-2.2 M112.5,61.7h2.2 M478.3,61.7h-2.2 M112.5,57.1h2.2 M478.3,57.1h-2.2 M112.5,53.2h2.2 M478.3,53.2h-2.2 M112.5,49.8h2.2 M478.3,49.8h-2.2 M112.5,46.9h2.2 M478.3,46.9h-2.2 M112.5,44.2h4.4 M478.3,44.2h-4.4 M112.5,26.7h2.2 M478.3,26.7h-2.2 M112.5,16.4h2.2 M478.3,16.4h-2.2 M112.5,9.2h2.2 M478.3,9.2h-2.2 M112.5,3.5h2.2 M478.3,3.5h-2.2" stroke="#000" stroke-width="1.2" fill="none"/>
<text transform="translate(33.48,49.32) scale(1.140,1)" font-family='"Liberation Sans", Arial, sans-serif' font-size="17.75" font-weight="normal" fill="#000" letter-spacing="0.47" style="stroke-width:.1px">100000</text>
<text transform="translate(44.78,107.32) scale(1.140,1)" font-family='"Liberation Sans", Arial, sans-serif' font-size="17.75" font-weight="normal" fill="#000" letter-spacing="0.57" style="stroke-width:.1px">10000</text>
<text transform="translate(56.18,165.92) scale(1.140,1)" font-family='"Liberation Sans", Arial, sans-serif' font-size="17.75" font-weight="normal" fill="#000" letter-spacing="0.71" style="stroke-width:.1px">1000</text>
<text transform="translate(69.48,224.52) scale(1.140,1)" font-family='"Liberation Sans", Arial, sans-serif' font-size="17.75" font-weight="normal" fill="#000" letter-spacing="0.19" style="stroke-width:.1px">100</text>
<text transform="translate(79.98,282.42) scale(1.140,1)" font-family='"Liberation Sans", Arial, sans-serif' font-size="17.75" font-weight="normal" fill="#000" letter-spacing="1.03" style="stroke-width:.1px">10</text>
<text transform="translate(99.30,299.80) scale(1.039,1)" font-family='"Liberation Sans", Arial, sans-serif' font-size="20.28" font-weight="normal" fill="#000" style="stroke-width:.1px">20</text>
<text transform="translate(140.16,299.80) scale(1.029,1)" font-family='"Liberation Sans", Arial, sans-serif' font-size="20.28" font-weight="normal" fill="#000" style="stroke-width:.1px">30</text>
<text transform="translate(181.12,299.80) scale(1.014,1)" font-family='"Liberation Sans", Arial, sans-serif' font-size="20.28" font-weight="normal" fill="#000" style="stroke-width:.1px">40</text>
<text transform="translate(221.45,299.80) scale(1.029,1)" font-family='"Liberation Sans", Arial, sans-serif' font-size="20.28" font-weight="normal" fill="#000" style="stroke-width:.1px">50</text>
<text transform="translate(261.87,299.80) scale(1.039,1)" font-family='"Liberation Sans", Arial, sans-serif' font-size="20.28" font-weight="normal" fill="#000" style="stroke-width:.1px">60</text>
<text transform="translate(302.52,299.80) scale(1.039,1)" font-family='"Liberation Sans", Arial, sans-serif' font-size="20.28" font-weight="normal" fill="#000" style="stroke-width:.1px">70</text>
<text transform="translate(343.27,299.80) scale(1.034,1)" font-family='"Liberation Sans", Arial, sans-serif' font-size="20.28" font-weight="normal" fill="#000" style="stroke-width:.1px">80</text>
<text transform="translate(383.92,299.80) scale(1.034,1)" font-family='"Liberation Sans", Arial, sans-serif' font-size="20.28" font-weight="normal" fill="#000" style="stroke-width:.1px">90</text>
<text transform="translate(417.93,299.80) scale(1.100,1)" font-family='"Liberation Sans", Arial, sans-serif' font-size="20.28" font-weight="normal" fill="#000" letter-spacing="-0.99" style="stroke-width:.1px">100</text>
<text transform="translate(453.53,299.80) scale(1.100,1)" font-family='"Liberation Sans", Arial, sans-serif' font-size="20.28" font-weight="normal" fill="#000" letter-spacing="2.08" style="stroke-width:.1px">110</text>
<text transform="translate(122.44,39.60) scale(1.000,1)" font-family='"Liberation Sans", Arial, sans-serif' font-size="22.60" font-weight="normal" fill="#000" letter-spacing="1.67" style="stroke-width:.5px">(a)</text>
<text transform="translate(175.90,21.40) scale(1.080,1)" font-family='"Liberation Sans", Arial, sans-serif' font-size="20.00" font-weight="normal" fill="#000" letter-spacing="1.43" >(111)</text>
<text transform="translate(304.69,34.30) scale(0.960,1)" font-family='"Liberation Sans", Arial, sans-serif' font-size="21.00" font-weight="normal" fill="#000" letter-spacing="3.10" >Si</text>
<text transform="translate(370.69,82.40) scale(1.100,1)" font-family='"Liberation Sans", Arial, sans-serif' font-size="19.80" font-weight="normal" fill="#000" letter-spacing="0.33" >(222)</text>
<text transform="translate(368.48,31.98) scale(1.017,1)" font-family='"Liberation Sans", Arial, sans-serif' font-size="24.32" font-weight="bold" fill="#000" stroke="#000" stroke-width="0.5">*</text>
<text transform="translate(387.37,27.60) scale(1.000,1)" font-family='"Liberation Sans", Arial, sans-serif' font-size="20.40" font-weight="normal" fill="#000" letter-spacing="-0.79" >L1</text>
<text transform="translate(410.54,36.85) scale(1.060,1)" font-family='"Liberation Sans", Arial, sans-serif' font-size="15.49" font-weight="normal" fill="#000" >0</text>
<text transform="translate(427.27,27.40) scale(1.080,1)" font-family='"Liberation Sans", Arial, sans-serif' font-size="20.00" font-weight="normal" fill="#000" letter-spacing="0.70" >FePt</text>
<text transform="translate(191.28,199.24) scale(1.042,1)" font-family='"Liberation Sans", Arial, sans-serif' font-size="23.24" font-weight="bold" fill="#000" stroke="#000" stroke-width="0.5">*</text>
<text transform="translate(387.48,219.24) scale(1.042,1)" font-family='"Liberation Sans", Arial, sans-serif' font-size="23.24" font-weight="bold" fill="#000" stroke="#000" stroke-width="0.5">*</text>
<text transform="translate(234.26,327.20) scale(1.000,1)" font-family='"Liberation Sans", Arial, sans-serif' font-size="21.50" font-weight="bold" fill="#000" letter-spacing="2.71" >Angle</text>
<text transform="translate(313.47,327.48) scale(0.840,1)" font-family='"Liberation Sans", Arial, sans-serif' font-size="22.46" font-weight="normal" fill="#000" >(</text>
<text transform="translate(320.73,327.20) scale(1.136,1)" font-family='"Liberation Sans", Arial, sans-serif' font-size="22.00" font-weight="bold" fill="#000" >2</text>
<text transform="translate(335.00,327.19) scale(1.241,1)" font-family='"Liberation Sans", Arial, sans-serif' font-size="21.50" font-weight="bold" fill="#000" >θ</text>
<text transform="translate(349.41,327.48) scale(0.856,1)" font-family='"Liberation Sans", Arial, sans-serif' font-size="22.46" font-weight="normal" fill="#000" >)</text>
<text transform="translate(18.6,239.48) rotate(-90) scale(0.987,1)" font-family='"Liberation Sans", Arial, sans-serif' font-size="24.64" font-weight="bold" stroke="#000" stroke-width="0.4">Log Intensity</text>
<clipPath id="cp"><path d="M121.0,538.0A8.4,8.4 0 0 1 121.2,531.1A7.6,7.6 0 0 1 121.4,524.2A10.0,10.0 0 0 1 121.6,517.4A10.7,10.7 0 0 1 121.8,510.5A9.1,9.1 0 0 1 123.5,502.6A10.5,10.5 0 0 1 125.3,494.8A6.1,6.1 0 0 1 127.1,486.9A10.7,10.7 0 0 1 128.8,479.0A8.6,8.6 0 0 1 131.8,473.0A10.7,10.7 0 0 1 134.8,467.0A9.7,9.7 0 0 1 137.8,461.0A6.4,6.4 0 0 1 140.8,455.0A9.0,9.0 0 0 1 146.3,448.4A11.2,11.2 0 0 1 151.7,441.8A6.2,6.2 0 0 1 157.2,435.2A7.6,7.6 0 0 1 162.4,430.8A5.8,5.8 0 0 1 167.6,426.3A5.5,5.5 0 0 1 172.8,421.8A5.2,5.2 0 0 1 178.0,417.4A11.7,11.7 0 0 1 185.0,412.8A6.9,6.9 0 0 1 192.0,408.1A7.7,7.7 0 0 1 199.0,403.5A8.2,8.2 0 0 1 206.0,400.2A11.5,11.5 0 0 1 213.0,396.8A6.0,6.0 0 0 1 220.0,393.5A7.7,7.7 0 0 1 226.7,391.5A8.3,8.3 0 0 1 233.3,389.5A10.4,10.4 0 0 1 240.0,387.5A9.7,9.7 0 0 1 246.7,386.4A10.0,10.0 0 0 1 253.3,385.3A6.4,6.4 0 0 1 260.0,384.2A8.6,8.6 0 0 1 268.0,383.7A8.2,8.2 0 0 1 276.0,383.1A12.0,12.0 0 0 1 284.0,382.6A10.4,10.4 0 0 1 290.7,382.9A5.6,5.6 0 0 1 297.3,383.1A5.7,5.7 0 0 1 304.0,383.4A6.1,6.1 0 0 1 310.7,384.4A6.1,6.1 0 0 1 317.3,385.4A7.7,7.7 0 0 1 324.0,386.4A8.4,8.4 0 0 1 330.7,387.7A6.4,6.4 0 0 1 337.3,389.1A4.8,4.8 0 0 1 344.0,390.4A7.6,7.6 0 0 1 350.7,392.7A7.3,7.3 0 0 1 357.3,395.1A8.5,8.5 0 0 1 364.0,397.4A13.9,13.9 0 0 1 372.0,401.3A11.8,11.8 0 0 1 380.0,405.2A7.6,7.6 0 0 1 386.0,407.9A8.2,8.2 0 0 1 392.0,410.5A8.8,8.8 0 0 1 397.3,414.5A5.0,5.0 0 0 1 402.7,418.6A10.1,10.1 0 0 1 408.0,422.6A12.0,12.0 0 0 1 414.0,428.7A12.7,12.7 0 0 1 420.0,434.8A12.1,12.1 0 0 1 426.0,440.9A9.0,9.0 0 0 1 432.0,447.0A9.6,9.6 0 0 1 438.0,453.8A7.2,7.2 0 0 1 444.0,460.5A11.6,11.6 0 0 1 448.8,468.2A6.9,6.9 0 0 1 453.5,476.0A4.9,4.9 0 0 1 456.0,482.0A5.8,5.8 0 0 1 458.5,488.0A5.5,5.5 0 0 1 461.0,494.0A8.4,8.4 0 0 1 463.2,502.0A6.2,6.2 0 0 1 465.5,510.0A5.7,5.7 0 0 1 466.8,518.0A6.8,6.8 0 0 1 468.0,526.0A6.0,6.0 0 0 1 468.8,533.5A7.7,7.7 0 0 1 469.5,541.0A6.2,6.2 0 0 1 472.5,549.0A9.7,9.7 0 0 1 472.8,555.5A8.1,8.1 0 0 1 473.0,562.0A7.7,7.7 0 0 1 471.0,571.0A8.5,8.5 0 0 1 469.0,580.0A7.3,7.3 0 0 1 466.2,586.7A7.4,7.4 0 0 1 463.3,593.3A5.9,5.9 0 0 1 460.5,600.0A13.3,13.3 0 0 1 456.2,608.0A14.4,14.4 0 0 1 452.0,616.0A10.1,10.1 0 0 1 447.8,624.0A10.3,10.3 0 0 1 443.5,632.0A5.1,5.1 0 0 1 439.7,637.3A5.2,5.2 0 0 1 435.8,642.7A6.6,6.6 0 0 1 432.0,648.0A6.2,6.2 0 0 1 427.3,652.7A9.5,9.5 0 0 1 422.7,657.3A5.6,5.6 0 0 1 418.0,662.0A4.7,4.7 0 0 1 412.8,666.0A10.2,10.2 0 0 1 407.7,670.0A7.7,7.7 0 0 1 402.5,674.0A7.7,7.7 0 0 1 394.8,679.0A11.0,11.0 0 0 1 387.0,684.0A5.2,5.2 0 0 1 380.7,687.3A8.4,8.4 0 0 1 374.3,690.7A11.3,11.3 0 0 1 368.0,694.0A10.3,10.3 0 0 1 361.3,696.0A9.2,9.2 0 0 1 354.7,698.0A6.5,6.5 0 0 1 348.0,700.0A8.4,8.4 0 0 1 340.0,701.3A6.9,6.9 0 0 1 332.0,702.7A11.3,11.3 0 0 1 324.0,704.0A9.5,9.5 0 0 1 316.0,704.7A11.2,11.2 0 0 1 308.0,705.3A8.0,8.0 0 0 1 300.0,706.0A7.2,7.2 0 0 1 292.0,706.0A11.4,11.4 0 0 1 284.0,706.0A10.7,10.7 0 0 1 277.3,704.8A9.9,9.9 0 0 1 270.7,703.7A9.6,9.6 0 0 1 264.0,702.5A9.8,9.8 0 0 1 257.3,701.2A9.3,9.3 0 0 1 250.7,699.8A6.1,6.1 0 0 1 244.0,698.5A8.2,8.2 0 0 1 237.3,696.3A7.2,7.2 0 0 1 230.7,694.2A5.1,5.1 0 0 1 224.0,692.0A5.4,5.4 0 0 1 217.3,688.7A7.1,7.1 0 0 1 210.7,685.3A7.0,7.0 0 0 1 204.0,682.0A9.5,9.5 0 0 1 198.0,678.0A11.3,11.3 0 0 1 192.0,674.0A8.0,8.0 0 0 1 186.0,670.0A10.9,10.9 0 0 1 180.7,665.3A11.3,11.3 0 0 1 175.3,660.7A11.1,11.1 0 0 1 170.0,656.0A7.3,7.3 0 0 1 165.3,650.7A6.4,6.4 0 0 1 160.7,645.3A6.4,6.4 0 0 1 156.0,640.0A5.8,5.8 0 0 1 152.0,634.7A5.9,5.9 0 0 1 148.0,629.3A8.4,8.4 0 0 1 144.0,624.0A11.3,11.3 0 0 1 140.7,617.3A10.9,10.9 0 0 1 137.3,610.7A8.4,8.4 0 0 1 134.0,604.0A9.2,9.2 0 0 1 131.3,597.3A10.2,10.2 0 0 1 128.7,590.7A5.6,5.6 0 0 1 126.0,584.0A8.8,8.8 0 0 1 124.7,577.3A10.3,10.3 0 0 1 123.3,570.7A9.5,9.5 0 0 1 122.0,564.0A12.5,12.5 0 0 1 121.0,555.0A10.2,10.2 0 0 1 120.0,546.0A1.6,1.6 0 0 1 119.5,544.2L126.0,543.8L133.0,543.0L133.0,541.8L126.2,541.6L119.5,541.4A5.2,5.2 0 0 1 121.0,538.0Z"/><circle cx="394.9" cy="408.4" r="3.6"/><circle cx="263.2" cy="384.0" r="2.2"/><circle cx="272.7" cy="383.4" r="2.1"/><circle cx="280.2" cy="382.9" r="2.4"/><circle cx="286.3" cy="382.7" r="2.6"/><circle cx="296.2" cy="383.1" r="2.5"/><circle cx="306.4" cy="383.8" r="2.1"/><circle cx="318.5" cy="385.6" r="2.9"/><circle cx="326.7" cy="386.9" r="2.2"/><circle cx="339.8" cy="389.6" r="3.0"/><circle cx="349.5" cy="392.3" r="2.4"/><circle cx="361.9" cy="396.7" r="2.1"/><circle cx="369.7" cy="400.2" r="2.3"/><circle cx="374.3" cy="402.4" r="2.1"/><circle cx="384.6" cy="407.2" r="2.9"/><circle cx="394.5" cy="412.4" r="2.6"/><circle cx="404.7" cy="420.1" r="2.4"/><circle cx="411.2" cy="425.8" r="2.1"/><circle cx="415.4" cy="430.1" r="2.2"/><circle cx="423.6" cy="438.5" r="2.5"/><circle cx="428.3" cy="443.3" r="2.6"/><circle cx="434.8" cy="450.2" r="2.3"/><circle cx="442.1" cy="458.3" r="2.8"/><circle cx="445.6" cy="463.2" r="2.6"/><circle cx="451.2" cy="472.2" r="3.0"/><circle cx="455.9" cy="481.7" r="2.3"/><circle cx="460.2" cy="492.1" r="2.1"/><circle cx="462.0" cy="497.6" r="2.8"/><circle cx="463.9" cy="504.3" r="2.5"/><circle cx="465.8" cy="511.8" r="2.7"/><circle cx="467.6" cy="523.3" r="2.6"/><circle cx="468.5" cy="531.4" r="2.3"/><circle cx="469.2" cy="538.1" r="2.7"/></clipPath>
<filter id="bl" x="-5%" y="-5%" width="110%" height="110%"><feGaussianBlur stdDeviation="0.55"/></filter>
<g clip-path="url(#cp)"><g filter="url(#bl)">
<rect x="60" y="330" width="480" height="420" fill="#ff0000"/>
<path d="M433.1,546.3L433.4,558.0L433.7,569.9L433.1,582.1L429.8,593.8L424.1,604.8L417.8,615.4L411.2,626.0L403.2,635.7L393.8,644.5L383.9,652.8L373.7,660.7L362.2,667.2L349.4,671.4L336.4,674.5L323.7,677.7L310.8,680.3L297.7,681.4L284.5,681.5L271.3,681.4L258.2,680.1L245.6,676.7L233.6,671.9L221.8,667.1L209.8,662.5L198.3,656.8L187.8,649.8L177.7,642.3L167.9,634.2L159.7,624.8L153.5,614.2L148.1,603.4L142.5,592.7L137.8,581.6L135.3,569.9L134.4,558.1L134.1,546.3L135.2,534.6L138.3,523.1L142.5,512.1L146.1,501.1L149.6,489.8L154.5,478.9L161.3,468.8L168.9,459.2L177.2,449.9L187.0,441.9L198.1,435.5L209.5,429.6L220.8,423.6L232.8,418.7L245.6,415.9L258.6,414.5L271.6,413.4L284.5,412.9L297.4,413.9L310.2,415.4L323.2,416.5L336.5,418.0L349.3,421.5L361.0,427.2L372.1,433.9L382.7,441.1L392.0,449.7L399.9,459.3L407.3,469.1L414.7,478.8L420.7,489.2L424.5,500.5L427.1,512.0L429.8,523.3L432.2,534.7Z" fill="#ff1000"/>
<path d="M434.8,546.4L435.1,558.3L432.7,569.9L429.0,581.2L425.4,592.5L421.2,603.7L415.6,614.4L409.0,624.8L402.1,635.1L394.2,645.0L384.1,653.2L372.7,659.7L361.1,665.7L349.4,671.4L336.9,675.7L323.8,678.2L310.7,679.9L297.7,681.0L284.6,680.5L271.8,678.0L259.3,675.2L246.8,673.2L234.2,670.9L221.9,667.3L210.0,662.6L198.2,657.4L187.0,651.0L177.5,642.7L169.4,633.4L161.5,624.0L153.8,614.3L147.7,603.8L143.7,592.5L140.7,581.1L138.3,569.6L137.6,558.0L138.6,546.4L139.6,535.0L139.9,523.5L141.0,511.8L144.3,500.5L149.1,489.6L154.5,478.9L161.2,468.7L169.8,459.8L179.4,451.8L188.8,443.8L198.6,436.0L209.8,429.8L221.9,425.5L234.2,421.8L246.5,418.4L259.1,416.2L271.8,415.1L284.6,414.0L297.6,412.7L310.8,412.6L323.7,415.0L336.1,419.0L348.2,423.6L359.9,429.1L370.4,436.1L380.2,443.9L389.9,451.6L399.3,459.8L406.8,469.4L412.5,480.0L417.8,490.5L423.1,501.1L427.3,512.0L430.1,523.3L432.5,534.8Z" fill="#ff1600"/>
<path d="M432.6,546.5L431.2,558.1L430.1,569.6L428.5,581.3L425.2,592.6L420.5,603.6L415.4,614.5L409.2,625.1L401.1,634.5L391.5,642.8L381.8,650.9L372.1,659.0L361.2,666.0L349.1,671.1L336.6,675.0L323.8,678.0L310.7,679.3L297.5,678.6L284.7,677.3L272.0,676.8L259.3,676.0L246.8,673.7L234.7,670.3L222.5,666.5L210.6,662.0L199.6,655.9L189.5,648.7L179.4,641.4L169.3,633.7L160.7,624.7L154.4,614.3L149.3,603.4L145.0,592.3L142.3,580.9L141.3,569.3L140.6,557.9L139.2,546.5L138.6,535.0L140.1,523.6L143.2,512.4L146.6,501.3L150.8,490.3L156.6,479.9L163.6,470.1L170.7,460.4L178.5,450.9L188.2,442.9L199.5,436.9L211.1,431.8L222.7,426.9L234.8,423.0L247.1,420.3L259.4,417.7L271.9,414.9L284.7,413.1L297.6,413.6L310.3,415.6L323.0,417.7L335.6,420.4L347.7,424.8L359.1,430.4L370.3,436.3L380.9,443.2L389.9,451.7L397.1,461.5L403.8,471.3L410.7,480.9L416.9,491.0L421.8,501.6L426.1,512.4L430.3,523.4L432.7,534.8Z" fill="#ff1c00"/>
<path d="M431.5,546.6L430.2,558.1L428.9,569.6L427.5,581.1L424.4,592.5L419.7,603.4L414.4,614.2L408.3,624.7L400.3,634.1L390.7,642.2L380.7,649.9L370.9,657.7L360.3,664.7L348.4,669.9L336.0,673.8L323.4,676.9L310.5,678.6L297.5,678.2L284.7,676.8L272.2,675.9L259.6,675.1L247.2,673.1L235.2,669.5L223.2,665.6L211.5,661.1L200.5,655.2L190.5,647.9L180.8,640.4L170.8,632.9L162.0,624.2L155.3,614.0L150.3,603.2L146.0,592.2L143.1,580.9L142.1,569.3L141.8,557.9L140.9,546.6L140.3,535.2L141.6,523.9L144.8,512.8L148.4,501.8L152.4,490.9L157.9,480.5L164.7,470.8L171.9,461.2L179.5,451.7L188.7,443.4L199.8,437.1L211.5,432.2L223.2,427.5L235.1,423.7L247.5,421.2L259.8,419.1L272.1,416.6L284.7,414.7L297.5,415.0L310.1,416.9L322.6,419.1L335.1,421.7L347.2,425.8L358.5,431.3L369.6,437.3L380.2,444.0L389.4,452.2L396.5,462.0L402.8,472.0L409.3,481.7L415.4,491.7L420.2,502.2L424.2,512.9L428.3,523.8L431.2,535.1Z" fill="#ff2200"/>
<path d="M427.1,546.7L428.7,558.1L428.3,569.6L426.2,581.0L423.4,592.3L419.7,603.6L414.2,614.2L407.1,624.1L399.6,633.8L391.7,643.3L382.2,651.6L370.9,657.8L358.9,662.7L347.0,667.2L334.7,670.7L322.2,672.8L309.7,674.5L297.4,676.6L284.8,678.1L272.2,677.4L259.7,675.2L247.4,672.8L235.2,669.9L223.4,665.7L212.3,660.2L201.2,654.6L190.4,648.4L180.8,640.7L173.1,631.4L166.3,621.8L159.3,612.2L153.2,602.2L148.5,591.6L144.6,580.7L140.9,569.7L138.7,558.3L139.3,546.7L141.5,535.4L143.8,524.3L146.1,513.2L149.9,502.3L154.8,491.9L159.9,481.6L165.7,471.3L173.2,462.1L182.3,454.1L191.8,446.6L201.2,438.8L211.4,431.9L222.8,426.7L234.8,422.5L246.9,419.0L259.5,417.0L272.3,417.2L284.8,418.2L297.2,418.7L309.7,419.1L322.1,420.9L334.2,424.1L346.2,427.7L358.0,432.2L368.8,438.4L378.3,446.0L387.5,453.9L396.8,461.8L404.9,470.7L411.0,480.9L415.7,491.6L420.0,502.3L423.0,513.3L424.4,524.5L425.3,535.6Z" fill="#ff2800"/>
<path d="M426.4,546.8L426.4,558.1L426.4,569.4L424.8,580.8L420.9,591.7L416.3,602.3L411.5,613.0L405.7,623.4L398.3,633.0L390.1,642.1L381.5,651.0L371.5,658.8L359.7,664.2L347.1,667.6L334.6,670.4L322.2,672.8L309.6,673.9L297.2,674.1L284.9,674.5L272.5,674.9L260.2,673.7L248.2,670.9L236.3,667.7L224.2,664.7L212.3,660.7L201.2,655.0L190.8,648.3L180.8,641.1L172.1,632.5L165.7,622.4L160.7,611.7L155.7,601.4L150.8,591.0L147.2,580.2L144.9,569.2L142.8,558.1L141.4,546.8L142.0,535.5L144.6,524.5L147.3,513.5L149.9,502.4L153.7,491.5L159.5,481.3L166.4,471.8L173.9,462.5L182.6,454.2L192.7,447.4L203.3,441.4L213.6,435.0L224.1,428.8L235.6,424.2L247.7,421.1L259.9,418.6L272.3,416.9L284.9,416.9L297.3,418.4L309.6,419.8L322.1,421.2L334.3,423.9L345.8,428.7L356.6,434.4L367.2,440.5L377.0,447.5L385.6,455.7L393.7,464.2L402.1,472.6L410.0,481.5L415.8,491.6L419.7,502.4L423.0,513.4L425.6,524.4L426.6,535.6Z" fill="#ff2e00"/>
<path d="M426.8,547.0L427.4,558.2L427.3,569.7L425.0,581.0L420.6,591.7L415.5,602.1L410.6,612.7L404.8,623.0L397.3,632.4L388.6,640.9L379.4,649.0L369.3,656.1L357.8,661.4L345.9,665.4L334.1,669.4L322.3,673.2L310.0,675.4L297.4,675.8L285.0,675.5L272.6,674.8L260.5,672.6L248.8,669.2L237.2,665.9L225.3,663.0L213.5,659.2L202.6,653.5L192.6,646.7L182.9,639.5L174.1,631.3L166.9,621.9L160.8,611.9L154.7,602.0L149.2,591.7L145.9,580.7L144.9,569.3L144.6,558.1L144.6,547.0L145.8,535.9L148.1,525.1L150.2,514.2L152.1,503.1L155.3,492.1L160.9,482.0L167.6,472.5L174.8,463.1L182.8,454.4L192.3,446.9L202.6,440.3L213.0,433.9L224.0,428.4L236.0,425.1L248.5,423.5L260.7,422.2L272.8,420.7L285.0,420.1L297.2,420.4L309.5,420.9L322.0,421.6L334.3,424.1L345.7,428.9L356.4,434.7L367.0,440.7L377.0,447.5L385.8,455.6L393.6,464.3L401.1,473.2L407.7,482.7L412.3,493.1L415.5,503.9L419.0,514.4L422.8,524.9L425.5,535.8Z" fill="#ff3300"/>
<path d="M422.9,547.2L422.0,558.1L422.0,569.1L421.7,580.4L419.5,591.6L415.5,602.3L410.7,612.9L404.8,623.2L397.2,632.4L388.0,640.5L378.6,648.2L368.9,655.6L358.0,661.4L345.9,665.1L333.6,667.6L321.5,669.8L309.4,671.2L297.3,671.5L285.3,671.7L273.2,672.5L260.9,672.7L248.8,671.0L237.1,667.5L225.5,663.6L214.2,659.0L203.7,653.0L194.2,645.8L184.9,638.4L175.9,630.6L168.5,621.5L163.1,611.3L158.6,600.9L154.1,590.6L150.3,580.1L147.9,569.2L146.1,558.3L144.5,547.2L144.3,536.0L146.6,525.0L150.6,514.5L154.6,504.0L158.7,493.7L164.2,483.7L170.7,474.4L177.5,465.1L184.9,456.1L193.9,448.4L204.3,442.3L215.0,436.7L225.6,431.1L236.8,426.3L248.7,423.3L260.8,421.3L273.0,419.7L285.3,419.6L297.4,421.5L309.2,424.2L321.0,426.5L332.8,428.7L344.3,432.3L355.3,437.2L366.0,442.7L376.3,448.9L385.2,456.6L392.6,465.5L399.6,474.6L406.8,483.6L412.8,493.3L416.8,503.8L419.6,514.6L422.0,525.3L423.3,536.3Z" fill="#ff3900"/>
<path d="M420.9,547.6L420.8,558.4L420.9,569.3L419.5,580.2L416.8,590.9L413.5,601.7L409.2,612.4L403.0,622.2L395.1,631.0L386.8,639.4L378.2,647.7L368.4,654.8L357.2,659.9L345.4,663.7L333.6,666.7L321.5,668.6L309.4,669.0L297.5,669.1L285.9,670.0L274.0,671.0L262.0,670.5L250.2,668.6L238.4,666.2L226.6,663.1L215.6,658.2L205.4,652.0L195.5,645.5L185.7,638.7L177.2,630.5L170.8,620.9L165.5,610.8L160.6,600.7L156.6,590.4L153.9,579.8L151.7,569.1L149.0,558.5L147.2,547.6L147.7,536.7L150.1,525.9L152.9,515.3L156.2,504.7L160.9,494.7L166.7,485.1L172.6,475.6L178.9,466.1L186.9,457.7L196.5,450.8L206.5,444.7L216.6,438.6L227.2,433.2L238.5,429.3L250.0,426.1L261.7,423.2L273.7,421.5L285.9,422.1L297.7,424.1L309.5,426.0L321.1,428.0L332.5,431.1L343.5,435.2L354.4,439.7L365.2,444.7L374.8,451.3L382.9,459.4L390.6,467.7L398.4,476.0L405.4,484.9L410.8,494.7L415.1,504.9L418.9,515.2L421.3,525.9L421.5,536.8Z" fill="#ff3f00"/>
<path d="M422.3,548.0L421.3,558.8L419.9,569.5L418.7,580.3L416.5,591.1L412.3,601.5L406.9,611.3L400.9,621.0L393.6,629.9L384.8,637.6L375.2,644.3L365.7,651.2L356.0,657.7L345.2,662.7L333.6,665.9L321.8,668.3L310.0,670.1L298.2,670.3L286.4,669.3L274.8,668.5L263.1,668.2L251.4,667.0L240.0,664.1L228.9,660.2L217.9,656.0L207.3,650.9L197.7,644.3L188.7,637.0L179.7,629.5L171.3,621.4L165.0,611.8L160.8,601.4L157.5,590.8L154.8,580.1L153.6,569.4L153.5,558.6L153.3,548.0L152.9,537.4L153.7,526.8L156.6,516.4L160.3,506.3L163.9,496.1L168.3,486.0L174.2,476.5L180.9,467.5L188.1,458.5L196.4,450.4L206.5,444.2L217.7,439.8L228.9,435.9L240.1,432.3L251.6,429.8L263.2,428.3L274.8,426.9L286.4,425.6L298.2,425.7L309.7,427.7L321.1,430.3L332.5,432.7L343.9,435.9L354.5,440.7L364.5,446.5L374.2,452.8L382.9,460.2L389.8,469.1L395.4,478.6L401.1,487.8L406.9,496.9L411.8,506.5L415.4,516.6L418.7,526.8L421.4,537.3Z" fill="#ff4500"/>
<path d="M419.9,548.4L419.3,559.0L416.9,569.3L414.5,579.6L412.6,590.1L410.0,600.7L405.5,610.8L399.7,620.4L393.1,629.6L385.3,638.1L375.9,645.0L365.5,650.7L355.2,656.2L344.6,661.1L333.2,664.3L321.4,665.7L309.8,666.4L298.3,667.0L286.9,666.9L275.7,665.9L264.3,665.3L252.6,665.2L240.7,664.2L229.3,661.1L218.5,656.5L208.0,651.2L198.1,644.9L189.6,637.1L182.2,628.6L175.0,619.9L168.5,610.8L163.9,600.7L161.3,590.1L159.2,579.6L157.1,569.3L155.8,558.9L155.6,548.4L155.5,538.0L155.4,527.3L156.9,516.7L160.8,506.6L165.8,497.0L170.9,487.4L176.7,478.1L183.9,469.6L191.8,461.8L200.0,454.0L209.0,447.0L219.3,441.7L230.4,438.0L241.5,434.6L252.5,431.2L263.8,428.8L275.4,427.9L286.9,427.4L298.6,427.3L310.1,428.9L321.1,432.4L331.7,436.4L342.3,440.2L352.9,444.4L362.7,449.9L371.8,456.3L380.8,463.0L389.0,470.4L395.5,479.2L400.8,488.6L406.1,497.8L411.4,507.2L415.4,517.1L417.6,527.4L419.1,537.9Z" fill="#ff4b00"/>
<path d="M415.9,548.8L416.4,559.1L415.9,569.5L414.3,579.9L412.4,590.4L410.2,601.0L406.0,611.3L399.3,620.3L391.5,628.5L383.3,636.3L374.3,643.3L364.3,649.0L353.8,653.7L343.3,658.1L332.5,661.7L321.2,663.5L309.8,664.1L298.6,664.9L287.5,666.1L276.2,666.6L264.8,666.1L253.3,665.1L241.7,663.6L230.5,660.3L220.3,655.0L210.8,648.9L201.2,642.7L192.1,635.9L184.4,627.8L177.6,619.0L171.3,610.1L166.1,600.5L162.8,590.3L160.9,579.8L158.9,569.5L156.8,559.3L156.2,548.8L157.2,538.5L159.0,528.2L161.2,518.0L164.9,508.1L170.1,498.9L175.3,489.7L180.1,480.2L185.7,470.9L193.0,462.6L201.4,455.3L210.4,448.4L220.2,442.6L231.1,438.6L242.4,435.8L253.5,433.0L264.6,430.6L276.1,429.9L287.5,430.8L298.7,432.2L309.7,433.7L320.6,436.1L331.1,439.6L341.6,442.9L352.5,446.1L362.9,450.5L372.1,456.8L380.2,464.2L387.9,472.0L394.6,480.4L399.8,489.7L404.2,499.2L408.7,508.6L412.7,518.2L414.9,528.3L415.5,538.6Z" fill="#ff5100"/>
<path d="M416.6,549.3L417.4,559.6L416.2,569.9L414.0,580.1L411.4,590.3L407.5,600.2L402.1,609.4L396.1,618.4L389.9,627.4L382.4,635.5L373.1,641.9L363.0,647.2L353.0,652.0L342.7,656.4L332.0,659.5L321.0,661.8L310.2,664.2L299.2,666.1L288.0,666.3L276.9,665.0L266.0,663.6L254.9,662.3L243.8,660.3L233.0,657.1L222.3,653.2L211.7,648.9L201.8,643.1L193.6,635.6L186.4,627.2L179.4,618.8L172.9,610.0L168.1,600.4L164.6,590.3L161.7,580.2L159.8,569.9L160.0,559.5L161.6,549.3L163.0,539.3L163.8,529.2L165.4,519.2L168.2,509.4L171.6,499.6L175.4,489.8L180.6,480.5L187.7,472.3L195.4,464.6L203.2,456.9L211.8,449.8L221.8,444.3L232.5,440.5L243.5,437.4L254.6,435.3L266.0,434.8L277.1,435.3L288.0,435.2L299.0,434.7L310.0,435.2L320.9,437.2L331.6,439.9L342.2,443.1L352.2,447.6L361.3,453.6L370.0,460.0L378.6,466.5L386.6,473.7L392.8,482.2L397.7,491.4L402.2,500.6L406.2,509.9L409.1,519.6L411.3,529.4L414.0,539.2Z" fill="#ff5700"/>
<path d="M412.4,549.6L412.8,559.5L412.9,569.7L411.6,579.8L409.3,589.8L406.7,600.0L402.8,610.0L396.6,618.8L388.6,626.5L380.2,633.5L371.7,640.3L362.3,646.0L352.2,650.5L341.9,654.4L331.6,658.1L321.0,660.4L310.0,661.2L299.2,661.6L288.5,662.7L277.6,663.6L266.6,663.3L255.5,662.1L244.4,660.5L233.4,657.7L223.3,653.0L214.0,646.9L205.0,640.7L196.0,634.3L188.0,626.8L181.4,618.2L175.6,609.2L170.6,599.9L167.1,590.0L165.5,579.7L164.4,569.6L162.9,559.6L162.2,549.6L163.1,539.5L165.2,529.7L167.6,519.9L170.6,510.3L175.0,501.2L180.1,492.3L184.9,483.2L189.9,473.9L196.5,465.4L204.7,458.2L213.8,451.9L223.4,446.3L233.8,442.3L244.9,439.9L255.8,438.0L266.6,436.1L277.6,435.1L288.5,435.9L299.2,437.5L309.8,439.1L320.3,441.0L330.5,443.9L340.6,447.4L350.9,450.7L361.1,454.7L370.2,460.5L377.8,467.8L384.7,475.7L391.1,483.8L396.4,492.5L400.5,501.8L404.4,511.0L408.4,520.2L411.2,529.8L412.2,539.7Z" fill="#ff5d00"/>
<path d="M410.8,549.5L411.7,559.3L411.1,569.3L409.8,579.3L407.9,589.3L404.3,599.0L398.6,607.7L391.9,615.9L385.3,623.9L378.2,631.7L369.9,638.4L360.7,644.1L351.3,649.2L341.4,653.6L330.9,656.2L320.1,657.5L309.5,658.8L299.1,660.4L288.5,661.4L277.8,661.1L267.2,660.3L256.4,659.3L245.8,657.1L235.7,653.4L225.8,649.1L215.6,644.9L205.6,640.0L196.9,633.5L189.4,625.7L182.7,617.4L177.0,608.5L173.2,598.8L170.8,588.7L168.5,578.9L166.2,569.2L165.3,559.3L166.1,549.5L167.5,539.8L168.9,530.1L171.1,520.6L174.3,511.4L177.6,502.1L180.7,492.4L184.7,482.8L190.8,474.3L198.4,466.8L206.5,459.9L215.4,453.7L225.3,449.1L235.7,445.6L246.0,442.4L256.4,439.6L267.1,438.3L277.9,438.6L288.5,439.3L299.0,439.8L309.4,440.8L319.7,442.7L330.0,444.9L340.5,447.3L350.5,450.9L359.4,456.6L367.3,463.4L374.8,470.3L381.9,477.6L387.8,485.7L393.0,494.2L398.1,502.6L402.8,511.3L406.0,520.6L407.6,530.2L409.1,539.8Z" fill="#ff6600"/>
<path d="M407.4,549.3L408.0,558.9L407.4,568.6L406.0,578.2L404.4,588.1L402.2,598.0L397.8,607.3L391.4,615.5L384.2,623.1L376.6,630.2L368.1,636.4L358.7,641.5L349.3,646.0L339.8,650.4L329.9,653.8L319.4,655.4L309.0,656.1L298.8,657.2L288.5,658.3L278.1,658.4L267.7,657.9L257.0,657.4L246.2,656.1L235.9,652.9L226.5,648.0L217.3,642.8L208.2,637.3L199.7,630.9L192.5,623.3L185.9,615.3L179.8,607.0L175.2,597.9L172.6,588.1L171.1,578.2L169.4,568.6L168.1,559.0L168.2,549.3L169.4,539.8L170.6,530.2L172.6,520.8L176.0,511.7L180.5,503.1L184.6,494.2L188.7,485.1L193.9,476.4L200.6,468.6L208.2,461.5L216.5,454.9L226.0,449.9L236.4,446.7L246.9,444.4L257.2,442.0L267.6,440.3L278.1,440.1L288.5,440.9L298.7,441.8L308.9,443.0L318.8,445.4L328.5,448.4L338.4,451.1L348.5,453.9L357.9,458.3L366.2,464.3L373.8,471.0L380.7,478.2L386.5,486.3L391.0,495.0L395.1,503.7L399.5,512.2L403.3,521.1L405.3,530.4L406.4,539.9Z" fill="#ff6e00"/>
<path d="M404.6,549.2L404.2,558.5L403.2,567.8L402.4,577.3L401.5,587.1L398.9,596.6L394.3,605.4L388.8,613.8L382.7,622.0L375.5,629.2L367.0,635.3L358.0,640.5L348.8,645.4L339.1,649.2L328.8,651.0L318.4,651.8L308.3,652.7L298.4,653.8L288.5,654.4L278.5,654.7L268.2,655.2L257.6,655.4L247.1,654.0L237.1,650.6L227.4,646.6L217.8,642.1L208.9,636.5L201.2,629.5L194.3,622.0L187.9,614.1L182.7,605.4L179.5,596.0L177.3,586.5L174.8,577.2L172.4,568.0L171.2,558.7L171.0,549.2L171.0,539.7L171.8,530.3L174.3,521.0L178.2,512.3L182.1,503.6L185.9,494.7L190.6,486.1L196.6,478.2L203.4,470.9L210.6,463.8L218.9,457.8L228.4,453.3L238.1,449.7L247.7,446.0L257.6,442.9L267.9,441.5L278.3,441.4L288.5,441.8L298.6,442.8L308.5,445.0L318.0,448.0L327.5,450.7L337.2,453.1L346.6,456.6L355.3,461.5L363.4,467.0L371.3,473.0L378.3,479.9L384.0,487.7L389.1,495.7L394.4,503.8L399.0,512.2L401.7,521.3L402.9,530.6L404.0,539.9Z" fill="#ff7600"/>
<path d="M400.9,549.1L401.1,558.2L401.6,567.5L401.0,576.9L398.7,586.1L395.5,595.1L391.7,604.0L386.7,612.5L380.2,620.1L373.0,627.0L365.5,633.7L357.2,639.6L347.7,643.6L337.5,646.0L327.5,647.9L317.7,649.6L307.9,650.4L298.2,650.9L288.5,651.9L278.6,653.3L268.5,653.6L258.5,652.4L248.5,650.4L238.4,648.2L228.5,644.9L219.4,640.0L210.9,634.4L202.7,628.2L195.5,621.1L190.2,612.6L186.3,603.5L182.7,594.6L179.3,585.7L176.9,576.7L175.4,567.5L173.9,558.3L172.8,549.1L173.4,539.8L175.6,530.7L178.2,521.8L180.6,512.9L183.7,504.0L188.0,495.6L193.0,487.4L198.3,479.3L204.8,471.9L212.7,465.8L221.4,460.6L229.9,455.5L238.8,450.8L248.4,447.4L258.3,445.3L268.4,443.9L278.5,443.2L288.5,444.0L298.3,446.1L307.8,448.1L317.4,449.5L327.0,451.6L336.1,455.0L344.9,459.0L353.7,463.3L361.8,468.5L368.8,475.0L375.2,482.0L381.8,488.8L388.0,496.1L392.6,504.3L395.8,513.1L398.4,521.9L400.4,530.9L401.1,540.0Z" fill="#ff7f00"/>
<path d="M398.1,549.0L399.0,557.9L399.6,567.1L398.6,576.2L396.0,585.1L392.9,594.0L389.3,602.8L384.4,611.0L378.2,618.5L371.4,625.6L364.1,632.2L355.5,637.5L345.9,640.8L336.0,643.1L326.4,645.2L316.9,647.0L307.4,648.1L298.0,648.9L288.5,650.3L278.8,651.4L269.0,651.1L259.3,649.6L249.5,647.9L239.6,645.9L230.0,642.7L221.0,638.0L212.5,632.6L204.6,626.5L198.0,619.2L193.2,610.7L189.1,602.0L185.0,593.6L181.4,585.0L179.0,576.1L177.4,567.1L176.0,558.1L175.5,549.0L176.8,539.9L179.1,531.1L181.1,522.4L183.1,513.5L186.1,504.8L190.4,496.6L195.1,488.5L200.5,480.7L207.1,473.7L214.8,467.8L222.8,462.3L230.9,456.8L239.6,452.1L249.2,449.0L259.0,447.3L268.9,446.1L278.7,445.9L288.5,447.1L298.0,448.9L307.3,450.2L316.8,451.3L326.1,453.6L334.9,457.0L343.5,460.9L352.0,465.1L359.8,470.4L366.8,476.6L373.5,483.1L380.2,489.6L386.0,497.0L389.9,505.2L392.7,513.9L395.2,522.5L397.0,531.3L397.8,540.1Z" fill="#ff8700"/>
<path d="M396.4,548.8L395.5,557.5L395.2,566.3L394.9,575.2L393.5,584.2L390.7,593.0L387.2,601.6L382.8,610.0L376.7,617.4L369.2,623.6L361.3,629.2L353.3,634.6L344.7,639.0L335.3,641.8L325.7,643.6L316.4,645.2L307.0,646.2L297.7,646.3L288.5,646.4L279.2,647.2L269.6,648.2L259.8,648.0L250.2,646.4L240.6,644.0L231.2,640.8L222.5,636.2L214.8,630.2L207.5,623.9L200.4,617.3L194.4,609.8L190.3,601.4L187.1,592.6L184.2,584.0L182.1,575.3L181.0,566.4L180.3,557.6L179.3,548.8L178.8,539.9L180.1,531.1L182.7,522.6L185.7,514.2L188.8,505.8L193.0,497.7L198.0,490.1L203.2,482.5L208.7,475.0L215.6,468.3L223.8,463.2L232.5,459.0L241.3,455.0L250.4,451.9L259.9,450.0L269.5,448.9L279.0,448.0L288.5,447.9L297.9,449.5L306.9,452.0L315.8,454.3L324.8,456.5L333.5,459.4L341.9,463.1L350.3,467.1L358.5,471.5L365.7,477.3L371.6,484.2L376.9,491.5L382.3,498.7L387.0,506.3L390.3,514.5L392.9,522.9L395.2,531.4L396.6,540.1Z" fill="#ff9000"/>
<path d="M392.3,548.8L393.2,557.3L393.9,566.1L393.1,574.8L390.9,583.3L388.1,591.9L384.7,600.2L379.7,608.0L373.7,615.0L367.2,621.6L360.3,627.9L352.2,632.9L343.0,636.1L333.7,638.4L324.6,640.4L315.6,641.9L306.6,642.7L297.7,643.5L288.7,645.0L279.5,646.2L270.3,645.9L261.1,644.6L251.7,643.1L242.3,641.1L233.3,637.8L224.9,633.4L216.8,628.4L209.1,622.7L202.8,615.8L198.1,607.7L194.2,599.5L190.4,591.4L187.2,583.1L185.2,574.6L183.6,566.0L182.1,557.5L181.6,548.8L182.9,540.3L185.1,531.9L187.1,523.6L189.1,515.2L192.0,507.0L196.0,499.1L200.2,491.3L205.0,483.7L211.3,477.0L218.7,471.4L226.3,466.2L234.1,461.0L242.4,456.7L251.5,454.0L260.8,452.2L270.1,451.0L279.5,450.9L288.7,452.3L297.7,454.1L306.5,455.3L315.4,456.5L324.1,458.6L332.5,461.7L340.9,465.0L349.0,469.0L356.3,474.1L362.8,480.1L369.1,486.3L375.4,492.6L380.7,499.6L384.5,507.4L387.3,515.6L389.8,523.7L391.4,532.0L392.0,540.5Z" fill="#ff9c00"/>
<path d="M391.8,548.9L392.0,557.3L391.8,565.7L390.4,574.1L387.7,582.3L384.7,590.3L381.5,598.5L377.3,606.3L371.3,613.1L364.4,618.9L357.2,624.4L349.5,629.2L341.2,632.8L332.6,635.7L324.2,638.6L315.6,641.2L306.8,642.4L297.8,642.4L289.0,642.3L280.2,642.3L271.4,641.7L262.6,640.5L253.7,639.2L244.4,637.8L235.4,635.2L227.2,630.9L219.8,625.6L212.5,620.0L205.8,613.8L200.4,606.6L195.9,598.9L191.8,591.0L188.7,582.8L187.4,574.2L187.6,565.5L187.9,557.1L187.9,548.9L188.4,540.7L189.7,532.6L190.9,524.5L192.2,516.2L194.7,508.0L198.6,500.4L203.2,493.1L207.9,485.6L213.2,478.5L220.0,472.4L227.6,467.3L235.6,462.9L244.2,459.5L253.4,457.9L262.6,457.3L271.5,456.7L280.3,455.9L289.0,455.6L297.8,456.3L306.4,457.2L315.2,458.3L323.7,460.4L331.7,463.9L339.5,467.7L347.4,471.5L354.9,475.9L361.4,481.7L366.9,488.2L372.0,494.9L376.5,502.0L379.7,509.6L382.4,517.3L385.5,524.9L388.8,532.6L391.0,540.6Z" fill="#ffab00"/>
<path d="M387.3,549.0L388.1,557.0L387.7,565.1L386.3,573.1L384.5,581.2L382.2,589.3L378.6,596.9L374.0,604.1L369.1,611.2L363.7,618.1L356.9,623.9L348.9,628.1L340.4,631.2L331.8,633.7L323.1,635.4L314.4,636.1L306.0,636.8L297.7,638.0L289.3,639.2L280.9,639.3L272.3,638.7L263.6,638.2L254.7,637.5L245.9,635.6L237.4,632.6L229.0,629.2L220.8,624.9L214.0,619.1L208.7,611.9L204.3,604.4L200.3,596.8L197.1,589.0L194.8,581.0L192.9,573.0L190.9,565.1L189.8,557.1L190.1,549.0L191.3,541.0L192.2,533.0L193.3,525.0L195.4,517.1L198.3,509.5L201.5,501.8L205.4,494.3L210.8,487.6L217.3,481.9L224.0,476.5L230.8,471.1L238.2,466.5L246.3,463.0L254.7,460.3L263.2,458.1L271.9,457.0L280.7,457.5L289.3,458.6L297.8,459.3L306.2,460.1L314.4,461.9L322.4,464.4L330.3,467.2L338.1,470.4L345.2,474.7L351.6,479.9L358.1,485.0L364.6,490.2L370.4,496.1L375.0,503.0L378.8,510.2L382.1,517.5L384.4,525.3L385.4,533.2L386.1,541.1Z" fill="#ffb900"/>
<path d="M383.4,548.8L384.0,556.6L384.6,564.5L384.1,572.5L382.5,580.5L380.3,588.4L377.1,596.2L372.3,603.1L366.2,609.1L359.7,614.6L353.2,620.0L346.0,624.5L338.1,627.8L329.9,630.5L321.9,632.8L313.6,634.3L305.3,634.7L297.1,635.0L289.0,636.0L280.7,637.0L272.3,637.1L263.9,636.2L255.4,634.9L246.9,632.9L238.9,629.6L231.6,625.2L224.3,620.6L217.1,615.8L210.8,609.9L205.8,603.0L201.8,595.7L198.3,588.2L195.9,580.4L194.7,572.4L193.9,564.4L192.9,556.7L192.4,548.8L193.3,541.1L195.1,533.4L197.0,525.9L199.1,518.4L201.9,511.1L205.4,503.9L208.8,496.6L212.5,489.1L217.6,482.4L224.2,477.0L231.4,472.3L238.9,468.1L247.0,465.0L255.5,463.1L264.0,461.9L272.3,460.7L280.7,460.3L289.0,461.3L297.1,463.0L305.1,464.3L313.0,465.5L320.9,467.3L328.7,469.8L336.5,472.4L344.2,475.5L351.1,480.0L356.8,485.8L361.9,492.0L366.9,498.1L371.2,504.7L374.5,511.8L377.4,518.9L380.2,526.1L382.3,533.5L383.1,541.2Z" fill="#ffca00"/>
<path d="M381.0,548.5L381.2,556.1L380.8,563.7L380.2,571.4L378.7,579.1L376.0,586.6L372.6,593.8L369.0,601.1L364.3,607.9L358.1,613.5L350.8,617.9L343.3,621.6L335.6,624.9L327.6,627.2L319.6,628.8L311.8,630.5L304.0,632.3L296.1,633.4L288.1,633.4L280.1,633.2L272.0,633.3L263.7,632.9L255.5,631.6L247.3,629.7L239.0,627.4L231.1,624.1L224.3,619.1L218.5,613.2L213.0,607.0L207.8,600.7L203.6,593.8L200.4,586.5L197.6,579.1L195.3,571.6L194.3,563.9L194.8,556.1L195.5,548.5L196.0,541.1L196.7,533.6L198.4,526.2L200.5,518.9L202.6,511.6L205.6,504.3L209.9,497.7L214.8,491.5L219.9,485.2L225.3,479.1L231.8,473.9L239.2,469.9L247.0,466.7L255.1,464.4L263.5,463.5L272.0,463.8L280.2,464.3L288.1,464.3L296.0,464.7L303.8,466.0L311.5,467.6L319.2,469.3L326.7,471.6L333.8,475.0L340.6,478.9L347.5,482.8L354.2,487.2L359.8,492.7L364.3,499.0L368.2,505.6L371.5,512.4L373.9,519.6L375.5,526.8L377.3,533.9L379.5,541.1Z" fill="#ffdd00"/>
<path d="M376.7,548.2L377.6,555.5L377.7,563.0L376.8,570.4L375.5,578.0L373.6,585.5L370.1,592.5L365.1,598.7L359.6,604.5L354.0,610.0L347.8,615.1L340.8,619.1L333.4,622.4L326.0,625.4L318.4,627.6L310.4,628.4L302.5,628.7L294.8,629.4L287.2,630.3L279.4,630.6L271.5,630.3L263.6,629.8L255.5,628.9L247.6,626.8L240.2,623.5L232.9,619.9L225.6,616.2L218.7,611.6L213.0,605.8L208.2,599.4L204.0,592.7L200.9,585.4L199.3,577.8L198.5,570.2L197.5,562.9L196.6,555.6L196.8,548.2L197.9,541.0L199.0,533.8L200.3,526.7L202.4,519.7L205.2,512.8L207.8,505.8L210.5,498.5L214.3,491.6L219.6,485.7L225.8,480.5L232.4,475.9L239.8,472.2L247.7,469.9L255.8,468.3L263.6,466.8L271.4,465.7L279.4,465.8L287.2,466.8L294.8,467.7L302.3,468.5L309.8,469.9L317.2,471.8L324.7,473.7L332.2,475.9L339.3,479.3L345.3,484.1L350.6,489.5L355.7,495.0L360.2,500.9L363.8,507.3L367.0,513.7L370.4,520.2L373.4,526.8L375.0,533.9L375.8,541.0Z" fill="#fff100"/>
<path d="M374.4,547.8L375.0,555.0L374.4,562.2L373.5,569.4L372.0,576.6L369.5,583.6L366.0,590.3L362.1,596.8L357.8,603.2L352.2,608.6L345.5,612.9L338.3,616.3L331.2,619.5L323.8,622.0L316.3,623.7L308.8,625.0L301.4,626.6L293.9,627.7L286.4,627.7L278.9,627.1L271.3,626.8L263.5,626.5L255.8,625.4L248.1,623.6L240.4,621.4L232.7,618.6L225.9,614.4L220.2,609.0L215.0,603.1L210.1,597.1L205.9,590.7L202.9,583.8L200.7,576.6L198.9,569.5L198.0,562.2L198.6,554.9L199.7,547.8L200.5,540.9L201.0,533.9L202.1,527.0L203.9,520.1L205.9,513.2L208.3,506.2L211.8,499.7L216.5,493.7L221.5,488.0L226.8,482.3L233.0,477.4L240.1,473.9L247.7,471.3L255.4,469.4L263.3,468.5L271.3,468.8L278.9,469.5L286.4,469.6L293.8,469.6L301.2,470.3L308.5,471.8L315.7,473.4L322.9,475.5L329.7,478.5L336.0,482.4L342.2,486.5L348.3,490.7L353.6,495.8L357.7,501.7L361.1,508.0L364.2,514.3L366.8,520.8L368.7,527.5L370.4,534.2L372.5,540.9Z" fill="#f7ff00"/>
<path d="M370.9,547.3L370.9,554.2L370.1,561.0L369.6,568.0L369.0,575.1L367.3,582.3L364.4,589.0L360.7,595.5L356.2,601.6L350.4,606.7L343.6,610.5L336.5,613.8L329.6,617.0L322.5,619.5L315.0,621.0L307.6,621.9L300.4,622.9L293.1,623.6L285.9,623.6L278.7,623.6L271.2,624.0L263.4,624.5L255.6,623.9L248.0,622.1L240.6,619.5L233.5,616.2L227.2,611.7L221.7,606.4L216.7,600.8L211.8,595.1L207.6,588.9L204.9,582.1L203.1,575.1L201.5,568.1L200.6,561.2L200.6,554.2L200.9,547.3L201.0,540.5L201.3,533.6L202.8,526.8L205.2,520.3L207.9,513.9L210.7,507.4L214.2,501.1L218.5,495.2L223.0,489.4L227.9,483.7L233.8,478.9L240.8,475.5L248.3,473.2L255.8,471.2L263.4,470.0L271.1,469.8L278.6,470.1L285.9,470.3L293.2,470.8L300.3,472.3L307.1,474.5L313.9,476.4L320.9,478.3L327.7,480.7L334.1,484.0L340.4,487.5L346.5,491.6L351.6,496.6L355.5,502.5L358.7,508.6L361.9,514.7L364.8,520.9L366.8,527.4L368.3,534.0L369.8,540.6Z" fill="#d9ff00"/>
<path d="M369.4,546.8L369.0,553.5L367.9,560.1L366.9,566.8L365.6,573.5L363.4,580.1L360.5,586.5L357.3,592.9L353.4,599.1L348.2,604.3L341.9,608.5L335.2,612.0L328.5,615.2L321.4,617.6L314.1,618.9L306.8,619.8L299.6,620.6L292.5,620.9L285.4,620.4L278.5,619.9L271.4,620.0L263.9,620.4L256.4,619.9L248.9,618.7L241.2,617.0L233.9,614.3L227.4,610.2L222.0,604.9L217.1,599.4L212.5,593.6L208.9,587.3L206.6,580.5L205.0,573.6L203.7,566.9L203.2,560.1L203.6,553.4L204.0,546.8L203.8,540.2L203.7,533.6L204.5,526.9L206.2,520.3L208.2,513.8L210.9,507.3L214.7,501.3L219.3,495.9L224.1,490.5L229.2,485.3L235.2,481.0L242.0,477.9L249.2,475.5L256.4,473.6L263.7,472.5L271.1,472.3L278.3,472.2L285.4,471.8L292.6,471.9L299.6,473.0L306.4,474.9L313.1,477.0L319.7,479.3L325.9,482.5L331.8,486.1L337.7,489.7L343.4,493.6L348.4,498.3L352.3,503.8L355.9,509.5L359.3,515.2L362.3,521.1L364.4,527.4L366.3,533.7L368.3,540.1Z" fill="#bbff00"/>
<path d="M365.0,546.3L364.8,552.6L364.4,559.1L364.3,565.7L363.7,572.4L361.8,578.9L358.7,585.1L355.1,591.1L351.0,596.8L346.0,601.9L340.0,606.1L333.8,609.8L327.2,613.0L320.1,615.0L312.7,615.6L305.4,615.8L298.5,616.2L291.8,616.8L285.0,617.0L278.2,617.5L271.1,618.3L263.7,618.7L256.4,617.8L249.3,616.1L242.2,613.9L235.1,611.3L228.7,607.5L223.2,602.7L218.3,597.4L214.0,591.6L211.0,585.3L209.3,578.5L207.9,571.9L206.3,565.5L205.0,559.1L204.5,552.7L204.4,546.3L204.3,539.8L204.9,533.4L206.6,527.1L208.8,521.0L210.9,514.8L213.2,508.4L216.4,502.4L220.5,496.9L225.2,491.7L230.3,486.8L236.4,482.9L243.1,480.0L249.8,477.5L256.6,475.0L263.6,473.3L270.8,472.9L278.0,473.1L285.0,473.6L291.9,474.5L298.5,476.3L305.0,478.2L311.6,479.7L318.2,481.3L324.5,483.9L330.3,487.3L335.9,491.0L341.2,495.0L345.9,499.6L349.9,504.8L353.8,510.1L357.6,515.4L360.6,521.2L362.4,527.4L363.4,533.7L364.4,539.9Z" fill="#9dff00"/>
<path d="M362.3,545.9L363.1,551.9L362.7,558.0L361.5,564.1L360.1,570.1L358.5,576.3L356.0,582.2L352.7,587.9L348.9,593.5L344.6,598.7L339.1,603.0L332.5,606.0L325.5,608.1L318.6,609.8L311.7,611.0L304.8,611.4L298.1,611.7L291.6,612.4L285.0,613.0L278.4,613.1L271.7,612.9L264.7,612.9L257.5,612.9L250.2,612.0L243.2,610.1L236.4,607.5L230.0,604.1L224.7,599.4L220.7,593.8L217.3,587.9L214.1,582.2L211.6,576.2L209.9,570.1L208.7,564.0L207.5,558.0L206.9,551.9L207.3,545.9L208.2,539.9L208.7,533.9L209.3,527.9L210.6,521.9L212.9,516.0L215.4,510.2L218.5,504.6L222.7,499.5L227.6,495.0L232.8,490.7L238.0,486.4L243.9,482.7L250.5,480.2L257.4,478.6L264.3,477.4L271.3,477.0L278.3,477.6L285.0,478.5L291.6,479.0L298.2,479.6L304.6,480.9L310.8,483.0L316.9,485.2L322.9,487.6L328.5,490.8L333.6,494.5L338.8,498.2L344.0,502.0L348.5,506.4L351.9,511.6L354.7,517.0L357.3,522.5L359.2,528.2L360.3,534.1L361.2,540.0Z" fill="#6dff00"/>
<path d="M359.9,545.5L360.5,551.1L360.2,556.9L359.4,562.6L358.6,568.5L357.1,574.4L354.3,579.9L350.4,584.8L346.0,589.5L341.4,594.0L336.1,597.9L330.2,601.0L324.1,603.7L317.8,606.0L311.2,607.4L304.4,607.7L297.8,607.7L291.4,607.9L285.0,608.3L278.6,608.5L272.1,608.6L265.3,608.8L258.3,608.6L251.5,607.2L245.1,604.8L238.8,602.2L232.7,599.1L227.1,595.2L222.5,590.5L218.5,585.5L215.0,580.2L212.8,574.4L211.8,568.4L211.3,562.4L210.6,556.7L210.2,551.1L210.5,545.5L211.1,539.9L211.7,534.4L212.7,528.8L214.5,523.4L216.7,518.1L218.7,512.5L220.9,506.9L224.1,501.5L228.3,496.7L233.2,492.4L238.7,488.6L245.0,485.9L251.8,484.3L258.6,483.2L265.3,482.1L271.9,481.6L278.5,482.0L285.0,482.7L291.3,483.3L297.6,484.0L303.7,485.3L309.8,486.9L316.0,488.3L322.2,490.0L327.9,492.8L332.8,496.4L337.3,500.5L341.5,504.7L345.0,509.3L347.8,514.3L350.7,519.1L353.8,523.9L356.4,529.0L357.9,534.4L358.9,539.9Z" fill="#3eff00"/>
<path d="M357.5,545.1L357.8,550.3L357.5,555.7L356.2,560.9L354.5,566.1L353.0,571.4L351.2,576.8L348.4,581.9L344.5,586.5L340.0,590.7L335.0,594.6L329.3,597.6L323.0,599.7L316.6,601.4L310.3,602.8L303.9,603.5L297.4,603.3L291.1,602.9L285.0,602.9L278.9,603.1L272.6,603.2L266.2,603.3L259.4,603.6L252.3,603.3L245.6,601.7L239.5,599.0L233.9,595.6L228.8,591.8L224.5,587.2L221.2,582.2L218.4,577.0L215.9,571.8L214.3,566.4L214.0,560.9L214.1,555.4L213.9,550.2L213.7,545.1L214.1,539.9L214.6,534.7L215.0,529.5L215.8,524.2L217.8,519.0L220.6,514.2L223.6,509.3L226.7,504.5L230.7,500.0L235.5,496.1L240.7,492.6L246.4,489.5L252.7,487.5L259.4,486.6L266.0,486.3L272.4,485.9L278.7,485.7L285.0,486.1L291.1,486.8L297.2,487.4L303.3,488.3L309.1,490.1L314.6,492.4L320.1,494.6L325.6,496.9L330.6,499.9L335.0,503.5L339.1,507.3L343.0,511.3L346.2,515.7L348.6,520.4L350.9,525.1L353.6,529.8L355.8,534.7L357.0,539.8Z" fill="#0fff00"/>
<path d="M353.8,545.0L353.7,550.0L353.5,555.0L352.8,560.0L351.4,565.0L349.9,570.0L348.3,575.2L346.1,580.4L342.6,585.0L338.2,588.9L333.2,592.5L327.8,595.5L321.7,597.5L315.4,598.7L309.1,599.6L303.0,600.2L296.9,600.2L290.9,599.7L285.1,599.5L279.3,599.9L273.3,600.5L267.1,600.8L260.6,601.0L253.7,600.8L247.1,599.6L241.2,597.0L236.1,593.4L231.5,589.4L227.4,585.1L224.3,580.3L222.0,575.2L219.9,570.2L218.3,565.2L217.5,560.0L217.6,554.9L217.6,549.9L217.3,545.0L217.2,540.1L217.7,535.2L218.5,530.2L219.4,525.2L221.0,520.2L223.6,515.6L226.8,511.2L230.0,506.7L233.5,502.2L237.8,498.3L242.9,495.0L248.3,492.1L254.1,489.9L260.4,488.8L266.9,488.6L273.1,488.5L279.2,488.5L285.1,488.7L291.0,489.6L296.7,490.6L302.4,491.7L307.9,493.1L313.1,495.3L318.2,497.6L323.3,499.8L328.4,502.3L332.8,505.5L336.7,509.2L340.3,513.0L343.5,517.1L346.1,521.5L348.0,526.0L350.0,530.6L352.1,535.2L353.4,540.0Z" fill="#06ff26"/>
<path d="M349.2,545.0L349.5,549.7L349.7,554.4L350.0,559.4L349.9,564.6L348.6,569.5L346.2,574.2L343.3,578.8L340.0,583.2L335.8,587.0L330.8,590.1L325.6,592.9L320.1,595.2L314.2,596.5L308.0,596.8L302.0,596.7L296.3,596.9L290.8,597.2L285.3,597.5L279.7,598.0L273.9,598.9L267.7,599.5L261.6,599.2L255.6,597.9L249.7,596.2L244.0,594.0L238.9,591.0L234.5,587.2L230.6,583.1L227.3,578.8L224.8,574.0L223.4,569.0L222.4,564.0L221.2,559.3L220.3,554.5L220.1,549.7L220.3,545.0L220.6,540.3L221.3,535.6L222.9,531.1L224.7,526.7L226.2,522.1L227.6,517.3L229.7,512.6L232.5,508.2L235.8,503.9L239.7,499.8L244.5,496.5L250.0,494.2L255.8,492.4L261.6,490.9L267.6,490.2L273.7,490.5L279.6,491.4L285.3,492.3L290.7,493.2L296.0,494.5L301.2,495.7L306.5,496.5L312.0,497.4L317.2,499.0L322.0,501.4L326.6,504.1L330.8,507.2L334.4,510.8L337.2,514.8L340.0,518.7L342.8,522.7L345.0,526.9L346.3,531.4L347.3,535.9L348.3,540.4Z" fill="#03ff53"/>
<path d="M345.7,545.0L346.3,549.4L346.4,554.0L346.4,558.6L346.0,563.4L344.8,568.1L342.7,572.6L340.4,577.1L337.8,581.6L334.2,585.7L329.5,588.9L324.3,591.3L318.7,593.1L312.8,594.1L306.9,594.1L301.1,593.9L295.8,594.1L290.6,594.5L285.4,594.9L280.2,595.2L274.7,595.8L269.0,596.4L263.1,596.3L257.2,595.5L251.3,594.3L245.6,592.5L240.6,589.6L236.7,585.7L233.5,581.4L230.8,577.0L228.7,572.3L227.4,567.6L226.3,563.0L225.0,558.5L224.1,554.0L224.0,549.5L224.5,545.0L224.9,540.6L225.4,536.2L226.4,531.8L227.6,527.4L228.8,523.0L230.2,518.4L232.4,514.0L235.5,510.0L238.9,506.2L242.6,502.4L246.9,499.1L251.9,496.5L257.3,494.6L262.8,493.1L268.6,492.5L274.5,493.1L280.1,494.2L285.4,495.1L290.6,495.9L295.6,496.9L300.6,497.9L305.6,498.9L310.6,500.0L315.3,501.8L319.6,504.3L323.7,506.9L327.9,509.6L331.7,512.6L334.8,516.2L337.5,519.9L340.0,523.8L341.8,527.9L342.8,532.2L343.5,536.4L344.6,540.7Z" fill="#01ff80"/>
<path d="M341.9,544.9L342.2,549.1L342.7,553.4L342.8,557.9L342.4,562.4L341.8,567.0L340.7,571.8L338.6,576.2L335.3,580.1L331.5,583.6L327.3,586.8L322.5,589.4L317.1,591.0L311.6,591.9L306.1,592.4L300.7,592.4L295.4,591.9L290.4,591.4L285.5,591.6L280.6,592.5L275.4,593.4L269.9,593.9L264.2,594.2L258.4,594.0L252.9,592.6L248.0,590.1L243.5,587.1L239.4,583.8L235.9,580.0L233.4,575.7L231.6,571.2L230.1,566.7L229.2,562.2L228.9,557.7L228.9,553.4L228.5,549.1L228.0,544.9L228.1,540.7L228.8,536.5L229.6,532.3L230.6,528.1L232.0,523.9L234.0,519.9L236.0,515.7L238.0,511.4L240.8,507.2L244.5,503.7L248.8,500.8L253.6,498.3L258.7,496.5L264.3,495.7L269.8,495.6L275.2,495.6L280.4,495.9L285.5,496.8L290.4,498.2L295.1,499.3L299.7,500.3L304.3,501.4L308.8,502.9L313.4,504.4L318.0,505.9L322.2,508.2L325.7,511.1L328.7,514.4L331.6,517.8L334.2,521.3L336.2,525.0L337.9,528.9L339.6,532.7L341.1,536.7L341.8,540.8Z" fill="#00ffa6"/>
<path d="M339.8,544.8L340.1,548.9L340.2,553.0L340.2,557.3L339.7,561.6L338.6,565.9L337.1,570.2L335.4,574.5L332.8,578.6L329.2,582.0L324.9,584.8L320.3,587.1L315.5,588.9L310.3,590.0L305.0,590.4L300.0,590.6L295.1,590.7L290.3,590.5L285.6,590.1L281.0,590.0L276.1,590.6L271.0,591.1L265.8,591.2L260.4,590.9L254.9,590.1L249.8,588.4L245.5,585.6L241.8,582.1L238.5,578.5L235.8,574.6L233.9,570.3L232.7,565.9L231.9,561.5L231.5,557.2L231.8,552.9L232.5,548.8L233.1,544.8L233.1,540.9L233.2,537.0L233.7,533.0L234.3,528.9L234.9,524.7L236.0,520.5L238.0,516.4L240.3,512.5L243.0,508.5L246.2,504.8L250.3,501.9L255.1,499.8L260.2,498.4L265.5,497.8L270.9,498.0L276.1,498.8L280.9,499.5L285.6,499.8L290.2,500.3L294.7,501.1L299.1,502.0L303.6,502.8L308.0,504.0L312.0,505.8L315.9,507.9L319.8,510.1L323.4,512.7L326.2,515.8L328.4,519.3L330.5,522.8L332.4,526.2L334.0,529.9L335.3,533.5L336.9,537.1L338.6,540.9Z" fill="#00ffc9"/>
<path d="M335.4,544.8L335.8,548.5L336.1,552.4L336.6,556.5L336.8,560.8L336.3,565.1L335.1,569.4L333.4,573.6L330.9,577.5L327.3,580.7L323.0,583.2L318.5,585.3L313.9,586.9L308.9,587.8L303.9,587.9L299.1,587.9L294.5,587.9L290.0,587.6L285.7,587.4L281.3,587.8L276.7,588.7L271.8,589.6L266.7,589.7L261.6,589.3L256.5,588.3L251.8,586.4L247.9,583.6L244.5,580.2L241.5,576.7L238.9,573.0L237.1,569.0L236.1,564.7L235.5,560.5L235.1,556.5L235.2,552.4L235.7,548.5L235.9,544.8L235.9,541.0L236.1,537.2L236.8,533.5L237.7,529.7L238.5,525.8L239.6,521.8L241.2,517.9L243.2,514.0L245.4,510.0L248.3,506.3L252.1,503.4L256.7,501.4L261.5,500.1L266.6,499.4L271.6,499.6L276.6,500.4L281.2,501.2L285.7,501.8L289.9,502.7L294.0,503.8L298.0,504.9L302.1,505.7L306.3,506.6L310.3,508.0L314.1,509.7L317.9,511.6L321.3,514.0L324.0,517.0L326.0,520.4L327.8,523.8L329.5,527.1L330.9,530.5L332.0,534.0L333.3,537.5L334.6,541.1Z" fill="#00ffeb"/>
<path d="M332.6,544.6L333.2,548.3L333.6,552.0L334.0,556.0L334.0,560.0L333.4,564.1L332.3,568.2L330.9,572.4L328.8,576.4L325.6,579.6L321.5,582.1L317.1,584.0L312.4,585.3L307.5,585.8L302.7,585.8L298.2,585.7L293.9,585.9L289.7,585.9L285.5,585.8L281.4,586.0L277.1,586.7L272.4,587.3L267.7,587.6L262.7,587.3L257.8,586.6L253.1,585.1L249.3,582.4L246.2,579.0L243.6,575.4L241.4,571.6L239.9,567.7L238.9,563.6L238.1,559.7L237.5,555.9L237.5,552.0L238.1,548.3L238.5,544.6L238.7,541.1L238.8,537.5L239.3,533.8L239.9,530.1L240.4,526.3L241.4,522.4L243.1,518.7L245.2,515.1L247.6,511.5L250.3,508.0L253.8,505.1L258.0,503.0L262.5,501.5L267.2,500.7L272.1,500.9L276.9,501.9L281.4,502.9L285.5,503.7L289.6,504.5L293.5,505.5L297.3,506.4L301.1,507.3L304.9,508.4L308.5,509.9L311.9,511.8L315.4,513.6L318.7,515.7L321.5,518.3L323.7,521.3L325.5,524.5L327.1,527.7L328.3,531.1L329.1,534.5L330.1,537.8L331.4,541.1Z" fill="#00f5ff"/>
<path d="M330.6,544.5L331.0,548.0L331.5,551.7L331.7,555.5L331.5,559.4L331.1,563.4L330.5,567.5L329.1,571.6L326.7,575.2L323.4,578.2L319.8,580.8L315.7,582.9L311.2,584.1L306.5,584.7L301.9,585.0L297.5,585.0L293.2,584.6L289.1,584.0L285.2,583.9L281.2,584.4L277.0,585.0L272.7,585.6L268.0,586.0L263.2,586.0L258.4,585.3L254.3,583.4L250.6,580.8L247.3,577.8L244.5,574.5L242.5,570.8L241.2,566.9L240.2,563.0L239.5,559.1L239.5,555.3L239.9,551.6L240.0,548.0L239.8,544.5L239.7,541.0L239.9,537.5L240.2,533.9L240.5,530.2L241.3,526.5L242.8,523.0L244.5,519.4L246.2,515.7L248.4,512.1L251.3,509.0L254.9,506.5L258.8,504.4L263.1,502.9L267.7,502.4L272.4,502.5L276.8,502.9L281.1,503.3L285.2,504.0L289.1,505.2L292.8,506.4L296.5,507.4L300.0,508.6L303.4,510.2L306.7,511.7L310.1,513.1L313.5,514.8L316.3,517.1L318.7,519.7L321.0,522.4L323.1,525.3L324.7,528.3L326.0,531.4L327.5,534.5L329.0,537.7L330.1,541.1Z" fill="#00deff"/>
<path d="M328.7,544.4L329.5,547.9L329.7,551.4L329.7,555.1L329.8,558.9L329.3,562.8L328.3,566.7L326.7,570.5L324.8,574.2L321.9,577.4L318.2,579.8L314.0,581.4L309.6,582.6L305.2,583.3L300.8,583.4L296.5,583.2L292.5,583.1L288.6,583.3L284.8,583.3L281.0,583.2L277.0,583.5L272.8,584.1L268.4,584.5L263.9,584.2L259.5,583.3L255.2,581.9L251.5,579.7L248.6,576.6L246.3,573.1L244.3,569.6L242.7,566.0L241.7,562.2L241.2,558.5L240.7,554.9L240.5,551.3L240.7,547.8L241.1,544.4L241.3,541.0L241.3,537.6L241.4,534.1L242.0,530.6L242.8,527.0L243.8,523.4L245.3,519.8L247.4,516.6L249.9,513.4L252.5,510.3L255.6,507.4L259.4,505.3L263.6,504.0L267.9,503.2L272.3,503.0L276.7,503.6L280.9,504.6L284.8,505.5L288.5,506.3L292.2,507.3L295.6,508.7L298.9,510.1L302.1,511.4L305.3,512.9L308.2,514.8L311.0,516.6L314.0,518.5L316.8,520.6L319.0,523.1L320.8,526.0L322.4,528.8L324.0,531.7L325.2,534.8L326.2,537.9L327.4,541.1Z" fill="#00c6ff"/>
<path d="M326.5,544.3L327.2,547.6L327.5,551.1L327.9,554.7L328.2,558.6L328.0,562.5L326.8,566.2L325.0,569.7L322.7,573.1L319.7,575.9L316.0,578.0L312.0,579.6L308.0,580.9L304.0,581.9L299.8,582.1L295.7,582.0L291.8,581.9L288.1,582.0L284.4,582.0L280.7,582.1L276.9,582.6L272.8,583.2L268.6,583.3L264.4,582.7L260.4,581.5L256.6,579.9L253.1,577.7L250.3,574.9L247.8,571.8L245.5,568.7L243.8,565.3L242.8,561.7L242.3,558.0L242.0,554.5L241.8,551.0L241.9,547.6L242.2,544.3L242.3,541.0L242.3,537.6L242.7,534.3L243.7,531.0L244.7,527.7L245.6,524.2L246.8,520.7L248.6,517.3L250.6,514.0L253.1,510.8L256.1,508.1L259.9,506.2L264.1,505.2L268.3,504.5L272.5,504.2L276.6,504.7L280.6,505.5L284.4,506.5L288.0,507.5L291.4,508.8L294.6,510.4L297.6,511.8L300.8,512.9L303.9,514.1L306.8,515.7L309.6,517.4L312.3,519.3L314.7,521.5L316.6,524.1L318.1,526.9L319.9,529.5L321.6,532.2L323.0,535.0L324.2,538.0L325.4,541.1Z" fill="#01b1ff"/>
<path d="M324.9,544.2L325.8,547.5L326.3,550.9L326.3,554.4L326.1,558.0L325.7,561.7L324.7,565.3L322.8,568.6L320.2,571.5L317.3,574.2L314.1,576.5L310.4,578.1L306.6,579.4L302.8,580.4L299.0,581.1L295.1,581.3L291.3,581.1L287.7,580.9L284.1,581.0L280.5,581.2L276.9,581.2L273.1,581.3L269.1,581.5L265.1,581.1L261.3,579.9L257.7,578.2L254.3,576.3L251.2,574.0L248.6,571.1L246.6,567.9L244.8,564.7L243.6,561.3L243.2,557.7L243.3,554.1L243.5,550.7L243.5,547.4L243.6,544.2L244.0,541.0L244.2,537.8L244.4,534.6L244.8,531.2L245.6,528.0L246.7,524.7L247.7,521.2L249.1,517.6L251.2,514.4L253.8,511.6L257.0,509.1L260.5,507.3L264.5,506.3L268.7,506.0L272.8,506.0L276.7,506.1L280.5,506.7L284.1,507.7L287.6,508.7L290.9,509.7L294.0,510.9L297.0,512.3L299.8,513.7L302.8,515.0L305.7,516.4L308.2,518.2L310.4,520.4L312.6,522.6L314.5,525.0L316.1,527.5L317.5,530.1L319.3,532.6L321.2,535.2L322.7,538.0L323.9,541.0Z" fill="#05a2ff"/>
<path d="M323.2,544.1L324.3,547.3L324.7,550.7L324.5,554.0L324.1,557.5L323.4,560.9L322.0,564.2L320.1,567.3L318.1,570.3L315.7,573.2L312.7,575.4L309.1,577.0L305.4,578.2L301.7,579.1L298.0,579.5L294.2,579.6L290.7,579.6L287.3,579.9L283.8,580.1L280.4,580.0L276.9,579.8L273.3,579.8L269.6,579.8L265.8,579.3L262.0,578.4L258.3,577.3L254.8,575.6L251.9,573.2L249.7,570.2L247.9,567.0L246.4,563.8L245.4,560.4L244.9,557.0L244.6,553.7L244.4,550.4L244.5,547.2L245.1,544.1L245.6,541.0L245.7,538.0L245.7,534.8L246.0,531.5L246.5,528.2L247.2,524.8L248.2,521.4L250.1,518.3L252.5,515.5L255.1,512.9L258.0,510.5L261.4,508.6L265.1,507.5L268.9,506.9L272.8,506.6L276.6,507.0L280.3,507.9L283.8,508.9L287.1,509.7L290.3,510.5L293.3,511.7L296.2,513.0L299.0,514.4L301.7,515.9L304.0,517.8L306.2,519.8L308.4,521.7L310.7,523.5L312.8,525.6L314.5,527.9L316.2,530.3L317.9,532.8L319.4,535.4L320.5,538.2L321.8,541.1Z" fill="#0893ff"/>
<path d="M320.6,544.0L321.1,547.0L321.9,550.2L322.3,553.6L322.1,556.9L321.4,560.2L320.3,563.5L318.7,566.7L316.5,569.5L313.8,571.9L310.9,574.0L307.8,575.9L304.3,577.1L300.5,577.6L296.9,577.8L293.4,577.9L290.0,577.9L286.7,577.9L283.5,578.1L280.2,578.7L276.8,579.2L273.2,579.2L269.7,578.9L266.0,578.4L262.4,577.6L259.1,576.1L256.1,574.1L253.3,571.8L250.8,569.2L249.1,566.1L248.1,562.8L247.4,559.5L246.7,556.3L246.2,553.2L246.1,550.1L245.9,547.0L245.6,544.0L245.6,540.9L246.1,537.9L246.7,534.9L247.2,531.8L247.8,528.7L248.7,525.5L250.0,522.4L251.5,519.3L253.4,516.3L256.0,513.8L259.0,511.9L262.2,510.1L265.6,508.6L269.1,507.7L272.8,507.4L276.5,507.6L280.1,508.1L283.5,509.1L286.7,510.6L289.6,512.1L292.4,513.4L295.1,514.6L297.7,516.0L300.1,517.5L302.6,518.9L304.9,520.5L307.0,522.4L308.9,524.4L310.9,526.3L313.1,528.3L315.0,530.5L316.5,533.0L317.8,535.5L319.1,538.2L320.0,541.1Z" fill="#0c84ff"/>
<ellipse cx="272.5" cy="543.8" rx="27" ry="35" fill="#1268ff"/>
<ellipse cx="308" cy="544" rx="15.5" ry="21.5" fill="#1268ff"/>
<ellipse cx="272.5" cy="543.8" rx="25" ry="33" fill="#1a48ff"/>
<ellipse cx="308" cy="544" rx="13.5" ry="19.5" fill="#1a48ff"/>
<ellipse cx="272.5" cy="543.8" rx="23" ry="31" fill="#2028ff"/>
<ellipse cx="308" cy="544" rx="11.5" ry="17.6" fill="#2230ff"/>
<ellipse cx="275.5" cy="543.5" rx="18" ry="26.5" fill="#3018ff"/>
<ellipse cx="278" cy="543.3" rx="14" ry="22.5" fill="#4412ff"/>
<ellipse cx="279.5" cy="543" rx="10.5" ry="19" fill="#5812ff"/>
<ellipse cx="280" cy="542" rx="7.5" ry="14.5" fill="#6a18ff"/>
<ellipse cx="280.5" cy="539" rx="4.5" ry="8.5" fill="#8020ff"/>
</g>
</g>
<rect x="139" y="542.2" width="16" height="1.4" fill="#fff" fill-opacity="0.6"/>
<g stroke="#000" stroke-width="1.5" stroke-linecap="butt">
<line x1="108" y1="541.4" x2="483.7" y2="541.4"/>
<line x1="283.9" y1="370.2" x2="283.9" y2="715"/>
<line x1="157.3" y1="425.2" x2="426.7" y2="673.3"/>
<line x1="146.7" y1="663.6" x2="422.9" y2="415.6"/>
</g>
<rect x="447.6" y="537.3" width="10.4" height="6.5" fill="#fff" fill-opacity="0.88"/>
<path d="M467.6,534V548" stroke="#a00000" stroke-width="1.1"/>
<path d="M110,534.5V547.5 M167,534.5V547.5 M223.6,534.5V547.5 M345.6,534.5V547.5 M405.7,534.5V547.5" stroke="#000" stroke-opacity="0.75" stroke-width="1.2"/>
<text transform="translate(64.27,440.40) scale(1.000,1)" font-family='"Liberation Sans", Arial, sans-serif' font-size="22.20" font-weight="normal" fill="#000" letter-spacing="1.69" >(b)</text>
<text transform="translate(275.43,369.44) scale(1.069,1)" font-family='"Liberation Sans", Arial, sans-serif' font-size="16.06" font-weight="normal" fill="#000" style="stroke-width:.55px">90</text>
<text transform="translate(140.05,420.24) scale(0.965,1)" font-family='"Liberation Sans", Arial, sans-serif' font-size="15.92" font-weight="normal" fill="#000" style="stroke-width:.55px">135</text>
<text transform="translate(422.88,414.44) scale(1.031,1)" font-family='"Liberation Sans", Arial, sans-serif' font-size="16.14" font-weight="normal" fill="#000" style="stroke-width:.55px">45</text>
<text transform="translate(78.31,547.24) scale(0.967,1)" font-family='"Liberation Sans", Arial, sans-serif' font-size="16.34" font-weight="normal" fill="#000" style="stroke-width:.55px">180</text>
<text transform="translate(487.29,544.64) scale(1.101,1)" font-family='"Liberation Sans", Arial, sans-serif' font-size="16.06" font-weight="normal" fill="#000" style="stroke-width:.55px">0</text>
<text transform="translate(118.28,673.64) scale(1.007,1)" font-family='"Liberation Sans", Arial, sans-serif' font-size="16.34" font-weight="normal" fill="#000" style="stroke-width:.55px">225</text>
<text transform="translate(418.03,686.84) scale(1.045,1)" font-family='"Liberation Sans", Arial, sans-serif' font-size="16.06" font-weight="normal" fill="#000" style="stroke-width:.55px">315</text>
<text transform="translate(272.14,732.23) scale(1.031,1)" font-family='"Liberation Sans", Arial, sans-serif' font-size="16.62" font-weight="normal" fill="#000" style="stroke-width:.55px">270</text>
<text transform="translate(100.02,570.44) scale(1.056,1)" font-family='"Liberation Sans", Arial, sans-serif' font-size="16.34" font-weight="normal" fill="#000" >-3</text>
<text transform="translate(157.58,570.60) scale(1.093,1)" font-family='"Liberation Sans", Arial, sans-serif' font-size="16.57" font-weight="normal" fill="#000" fill-opacity="0.72" style="stroke-opacity:.5">-2</text>
<text transform="translate(212.08,570.60) scale(0.958,1)" font-family='"Liberation Sans", Arial, sans-serif' font-size="16.81" font-weight="normal" fill="#000" fill-opacity="0.72" style="stroke-opacity:.5">-1</text>
<text transform="translate(342.36,570.00) scale(0.642,1)" font-family='"Liberation Sans", Arial, sans-serif' font-size="17.39" font-weight="normal" fill="#000" fill-opacity="0.72" style="stroke-opacity:.5">1</text>
<text transform="translate(400.01,569.80) scale(1.154,1)" font-family='"Liberation Sans", Arial, sans-serif' font-size="17.14" font-weight="normal" fill="#000" fill-opacity="0.72" style="stroke-opacity:.5">2</text>
<text transform="translate(463.29,569.63) scale(1.057,1)" font-family='"Liberation Sans", Arial, sans-serif' font-size="16.90" font-weight="normal" fill="#000" fill-opacity="0.72" style="stroke-opacity:.5">3</text>
<text transform="translate(476.08,513.41) scale(1.339,1)" font-family='"Liberation Sans", Arial, sans-serif' font-size="17.11" font-weight="normal" fill="#000" style="stroke-width:0">ϕ</text>
<text transform="translate(407.89,513.35) scale(1.561,1)" font-family='"Liberation Serif", serif' font-size="14.58" font-weight="normal" fill="#7a1400" style="stroke-width:0">ω</text>
</svg></body></html>
